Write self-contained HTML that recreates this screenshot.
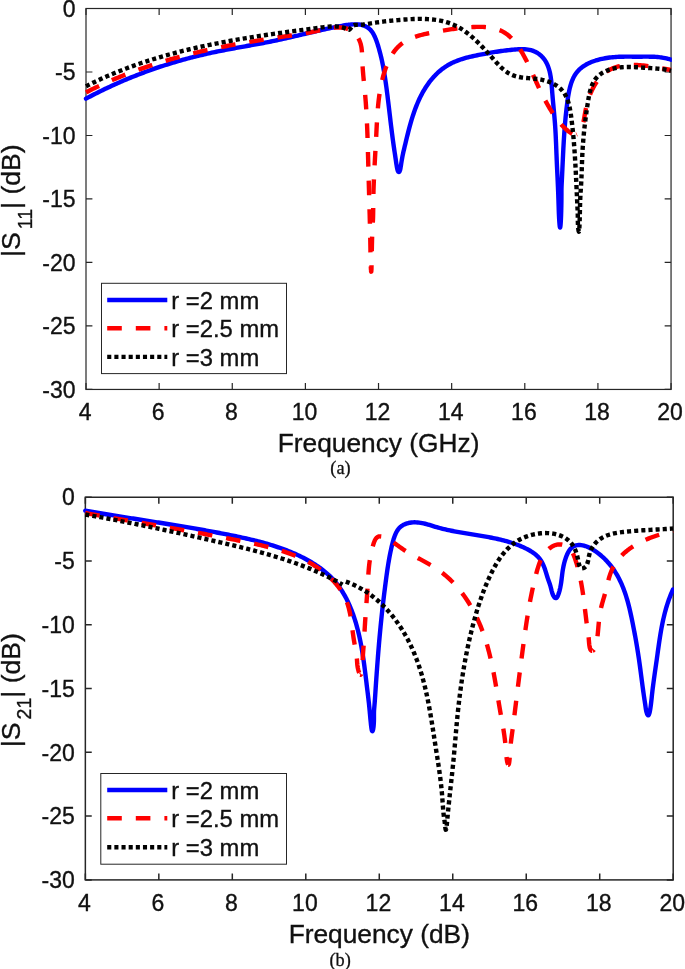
<!DOCTYPE html>
<html lang="en">
<head>
<meta charset="utf-8">
<title>S-parameters versus frequency for r = 2, 2.5 and 3 mm</title>
<style>
html,body{margin:0;padding:0;background:#fff;}
body{width:685px;height:969px;overflow:hidden;}
svg{display:block;}
text{font-family:"Liberation Sans",Arial,Helvetica,sans-serif;fill:#111;stroke:#111;stroke-width:0.35px;}
.tk text{font-size:23px;}
.lg text{font-size:23.8px;}
.lab{font-size:26.3px;}
.sub{font-size:19.5px;}
.ylab{font-size:26.6px;}
.cap{font-family:"Liberation Serif","Times New Roman",serif;font-size:18.3px;fill:#111;stroke-width:0.3px;}
</style>
</head>
<body>
<svg width="685" height="969" viewBox="0 0 685 969">
<rect width="685" height="969" fill="#fff"/>

<g id="plot-a">
<rect x="86.0" y="8.5" width="585.05" height="380.95" fill="#fff" stroke="#262626" stroke-width="1.2"/>
<path d="M86.00 389.45 v-6.4 M86.00 8.5 v6.4 M159.13 389.45 v-6.4 M159.13 8.5 v6.4 M232.26 389.45 v-6.4 M232.26 8.5 v6.4 M305.39 389.45 v-6.4 M305.39 8.5 v6.4 M378.52 389.45 v-6.4 M378.52 8.5 v6.4 M451.66 389.45 v-6.4 M451.66 8.5 v6.4 M524.79 389.45 v-6.4 M524.79 8.5 v6.4 M597.92 389.45 v-6.4 M597.92 8.5 v6.4 M671.05 389.45 v-6.4 M671.05 8.5 v6.4 M86.0 8.50 h6.4 M671.05 8.50 h-6.4 M86.0 71.99 h6.4 M671.05 71.99 h-6.4 M86.0 135.48 h6.4 M671.05 135.48 h-6.4 M86.0 198.97 h6.4 M671.05 198.97 h-6.4 M86.0 262.47 h6.4 M671.05 262.47 h-6.4 M86.0 325.96 h6.4 M671.05 325.96 h-6.4 M86.0 389.45 h6.4 M671.05 389.45 h-6.4" stroke="#262626" stroke-width="1.2" fill="none"/>
<clipPath id="ca"><rect x="82.0" y="8.5" width="589.8499999999999" height="380.95"/></clipPath>
<g clip-path="url(#ca)">
<path d="M86.00 98.60 L87.36 97.87 L88.73 97.15 L90.10 96.43 L91.47 95.72 L92.84 95.01 L94.22 94.31 L95.60 93.61 L96.98 92.92 L98.36 92.23 L99.74 91.54 L101.13 90.86 L102.52 90.19 L103.91 89.52 L105.30 88.85 L106.70 88.19 L108.09 87.53 L109.49 86.88 L110.89 86.23 L112.29 85.59 L113.70 84.95 L115.10 84.31 L116.51 83.68 L117.92 83.06 L119.33 82.44 L120.75 81.82 L122.16 81.21 L123.58 80.60 L125.00 80.00 L126.42 79.40 L127.85 78.81 L129.27 78.22 L130.70 77.64 L132.13 77.06 L133.56 76.49 L134.99 75.92 L136.43 75.35 L137.86 74.79 L139.30 74.24 L140.74 73.68 L142.18 73.14 L143.63 72.60 L145.07 72.06 L146.52 71.53 L147.97 71.00 L149.42 70.47 L150.87 69.96 L152.32 69.44 L153.78 68.93 L155.24 68.43 L156.69 67.93 L158.15 67.43 L159.62 66.94 L161.08 66.46 L162.55 65.97 L164.01 65.50 L165.48 65.02 L166.95 64.56 L168.42 64.09 L169.90 63.64 L171.37 63.18 L172.85 62.73 L174.32 62.29 L175.80 61.85 L177.28 61.42 L178.77 60.99 L180.25 60.56 L181.74 60.14 L183.22 59.72 L184.71 59.31 L186.20 58.90 L187.69 58.50 L189.18 58.11 L190.68 57.71 L192.17 57.32 L193.67 56.94 L195.17 56.56 L196.67 56.19 L198.17 55.82 L199.67 55.45 L201.17 55.09 L202.68 54.74 L204.18 54.39 L205.69 54.04 L207.20 53.70 L208.71 53.37 L210.22 53.03 L211.73 52.71 L213.25 52.38 L214.76 52.07 L216.28 51.75 L217.79 51.44 L219.31 51.14 L220.83 50.83 L222.35 50.54 L223.87 50.24 L225.39 49.95 L226.91 49.66 L228.43 49.37 L229.96 49.08 L231.48 48.80 L233.00 48.52 L234.52 48.24 L236.05 47.96 L237.57 47.68 L239.09 47.41 L240.62 47.13 L242.14 46.86 L243.66 46.58 L245.19 46.31 L246.71 46.04 L248.23 45.76 L249.75 45.49 L251.27 45.21 L252.79 44.94 L254.31 44.66 L255.83 44.38 L257.35 44.11 L258.86 43.82 L260.38 43.54 L261.89 43.26 L263.41 42.97 L264.92 42.68 L266.43 42.39 L267.94 42.10 L269.45 41.80 L270.95 41.50 L272.46 41.19 L273.96 40.88 L275.46 40.57 L276.96 40.26 L278.46 39.94 L279.96 39.61 L281.45 39.29 L282.95 38.96 L284.44 38.62 L285.93 38.29 L287.42 37.95 L288.91 37.60 L290.40 37.26 L291.89 36.92 L293.38 36.57 L294.87 36.22 L296.36 35.87 L297.85 35.52 L299.34 35.16 L300.84 34.81 L302.33 34.46 L303.82 34.10 L305.32 33.75 L306.81 33.40 L308.31 33.04 L309.81 32.69 L311.31 32.34 L312.82 31.99 L314.32 31.64 L315.83 31.29 L317.34 30.94 L318.85 30.60 L320.37 30.26 L321.89 29.92 L323.41 29.58 L324.93 29.24 L326.46 28.91 L327.99 28.58 L329.53 28.26 L331.07 27.94 L332.61 27.62 L334.16 27.31 L335.71 27.00 L337.27 26.69 L338.83 26.39 L340.40 26.10 L341.97 25.81 L343.54 25.53 L345.11 25.27 L346.68 25.03 L348.24 24.81 L349.79 24.63 L351.33 24.49 L352.86 24.38 L354.36 24.33 L355.84 24.33 L357.30 24.38 L358.74 24.50 L360.14 24.69 L361.51 24.96 L362.84 25.30 L364.13 25.73 L365.38 26.24 L366.59 26.86 L367.75 27.57 L368.86 28.39 L369.91 29.32 L370.91 30.37 L371.85 31.54 L372.73 32.83 L373.55 34.22 L374.32 35.70 L375.04 37.24 L375.71 38.85 L376.34 40.49 L376.93 42.16 L377.48 43.83 L378.00 45.50 L378.49 47.14 L378.95 48.74 L379.38 50.30 L379.79 51.81 L380.18 53.29 L380.55 54.74 L380.91 56.17 L381.25 57.58 L381.57 58.99 L381.88 60.39 L382.18 61.79 L382.48 63.20 L382.76 64.63 L383.04 66.07 L383.32 67.54 L383.58 69.01 L383.85 70.51 L384.10 72.01 L384.36 73.53 L384.60 75.05 L384.85 76.59 L385.08 78.14 L385.31 79.69 L385.54 81.25 L385.77 82.81 L385.99 84.37 L386.20 85.94 L386.42 87.51 L386.62 89.08 L386.83 90.65 L387.03 92.21 L387.23 93.77 L387.43 95.33 L387.62 96.88 L387.81 98.42 L388.00 99.96 L388.18 101.49 L388.37 103.01 L388.55 104.53 L388.73 106.04 L388.91 107.56 L389.09 109.07 L389.27 110.57 L389.44 112.08 L389.62 113.59 L389.80 115.10 L389.98 116.61 L390.16 118.12 L390.34 119.63 L390.52 121.15 L390.70 122.67 L390.88 124.20 L391.07 125.73 L391.26 127.27 L391.45 128.81 L391.64 130.37 L391.84 131.93 L392.04 133.50 L392.24 135.06 L392.44 136.63 L392.65 138.20 L392.85 139.75 L393.06 141.31 L393.28 142.85 L393.49 144.37 L393.70 145.89 L393.92 147.38 L394.14 148.86 L394.35 150.33 L394.57 151.79 L394.79 153.24 L395.01 154.69 L395.23 156.15 L395.45 157.61 L395.67 159.08 L395.88 160.56 L396.10 162.06 L396.32 163.61 L396.58 165.26 L396.89 167.09 L397.28 168.98 L397.72 170.62 L398.21 171.69 L398.74 172.09 L399.27 171.84 L399.77 170.97 L400.22 169.49 L400.60 167.50 L400.95 165.33 L401.28 163.24 L401.60 161.26 L401.92 159.39 L402.23 157.63 L402.55 155.95 L402.88 154.34 L403.21 152.81 L403.54 151.33 L403.88 149.89 L404.22 148.46 L404.56 147.03 L404.91 145.60 L405.25 144.15 L405.60 142.70 L405.95 141.24 L406.31 139.78 L406.66 138.31 L407.02 136.83 L407.39 135.35 L407.76 133.86 L408.14 132.37 L408.52 130.88 L408.91 129.39 L409.31 127.89 L409.71 126.40 L410.13 124.90 L410.55 123.40 L410.98 121.90 L411.42 120.41 L411.87 118.92 L412.34 117.42 L412.81 115.94 L413.30 114.45 L413.79 112.97 L414.31 111.49 L414.83 110.02 L415.37 108.56 L415.92 107.10 L416.49 105.65 L417.08 104.21 L417.68 102.77 L418.29 101.35 L418.93 99.93 L419.58 98.53 L420.25 97.13 L420.94 95.75 L421.64 94.38 L422.37 93.02 L423.12 91.67 L423.89 90.34 L424.68 89.02 L425.49 87.72 L426.32 86.43 L427.18 85.16 L428.06 83.90 L428.96 82.66 L429.89 81.45 L430.83 80.25 L431.81 79.07 L432.80 77.91 L433.82 76.78 L434.86 75.67 L435.92 74.58 L437.01 73.52 L438.12 72.48 L439.25 71.47 L440.41 70.49 L441.59 69.54 L442.79 68.61 L444.02 67.72 L445.27 66.86 L446.54 66.03 L447.84 65.23 L449.16 64.46 L450.51 63.73 L451.87 63.04 L453.26 62.38 L454.67 61.75 L456.10 61.16 L457.55 60.59 L459.01 60.05 L460.49 59.54 L461.98 59.06 L463.48 58.59 L465.00 58.15 L466.52 57.73 L468.04 57.33 L469.58 56.95 L471.11 56.59 L472.65 56.24 L474.19 55.90 L475.73 55.57 L477.26 55.26 L478.80 54.95 L480.32 54.65 L481.84 54.36 L483.35 54.07 L484.86 53.79 L486.35 53.51 L487.84 53.24 L489.33 52.97 L490.81 52.70 L492.29 52.45 L493.77 52.20 L495.25 51.95 L496.74 51.71 L498.22 51.48 L499.71 51.26 L501.20 51.04 L502.70 50.84 L504.21 50.64 L505.73 50.45 L507.26 50.27 L508.80 50.10 L510.35 49.94 L511.91 49.79 L513.49 49.64 L515.09 49.52 L516.70 49.40 L518.32 49.30 L519.95 49.24 L521.57 49.21 L523.19 49.22 L524.79 49.28 L526.38 49.40 L527.94 49.59 L529.47 49.85 L530.97 50.20 L532.43 50.63 L533.84 51.14 L535.21 51.75 L536.52 52.43 L537.79 53.20 L539.00 54.03 L540.16 54.94 L541.25 55.91 L542.29 56.94 L543.26 58.02 L544.17 59.16 L545.01 60.35 L545.78 61.59 L546.49 62.86 L547.13 64.18 L547.72 65.54 L548.26 66.93 L548.75 68.35 L549.18 69.80 L549.58 71.28 L549.93 72.78 L550.25 74.31 L550.53 75.85 L550.78 77.41 L551.00 78.99 L551.20 80.57 L551.38 82.17 L551.54 83.77 L551.69 85.37 L551.82 86.97 L551.95 88.57 L552.07 90.17 L552.19 91.76 L552.31 93.34 L552.44 94.91 L552.57 96.47 L552.70 98.02 L552.84 99.56 L552.98 101.10 L553.12 102.62 L553.26 104.14 L553.40 105.66 L553.54 107.17 L553.68 108.68 L553.82 110.19 L553.96 111.69 L554.10 113.19 L554.23 114.70 L554.37 116.20 L554.50 117.70 L554.62 119.21 L554.75 120.72 L554.87 122.24 L554.98 123.75 L555.09 125.28 L555.20 126.81 L555.30 128.35 L555.39 129.89 L555.48 131.44 L555.57 132.99 L555.65 134.54 L555.73 136.10 L555.80 137.66 L555.87 139.23 L555.94 140.79 L556.01 142.36 L556.08 143.93 L556.14 145.49 L556.20 147.06 L556.26 148.62 L556.32 150.18 L556.38 151.74 L556.44 153.30 L556.51 154.85 L556.57 156.40 L556.63 157.94 L556.69 159.48 L556.76 161.01 L556.82 162.54 L556.89 164.06 L556.96 165.58 L557.03 167.10 L557.10 168.61 L557.17 170.13 L557.25 171.64 L557.32 173.16 L557.39 174.68 L557.46 176.20 L557.53 177.72 L557.60 179.25 L557.68 180.79 L557.75 182.33 L557.82 183.88 L557.88 185.43 L557.95 187.00 L558.02 188.57 L558.08 190.16 L558.15 191.75 L558.21 193.36 L558.27 194.98 L558.32 196.59 L558.38 198.19 L558.43 199.78 L558.49 201.34 L558.53 202.88 L558.58 204.37 L558.63 205.82 L558.67 207.21 L558.71 208.54 L558.75 209.82 L558.79 211.08 L558.84 212.40 L558.90 213.80 L558.97 215.36 L559.06 217.13 L559.16 219.06 L559.28 221.03 L559.41 222.92 L559.54 224.58 L559.68 225.88 L559.81 226.79 L559.94 227.33 L560.06 227.52 L560.18 227.38 L560.30 226.94 L560.42 226.21 L560.53 225.23 L560.64 224.01 L560.74 222.58 L560.83 220.95 L560.93 219.15 L561.01 217.20 L561.09 215.13 L561.16 212.96 L561.23 210.70 L561.28 208.39 L561.33 206.04 L561.37 203.68 L561.41 201.33 L561.43 199.01 L561.44 196.74 L561.45 194.55 L561.45 192.47 L561.46 190.55 L561.49 188.81 L561.53 187.24 L561.59 185.78 L561.65 184.37 L561.72 182.97 L561.79 181.55 L561.86 180.08 L561.94 178.59 L562.01 177.07 L562.08 175.52 L562.16 173.96 L562.23 172.39 L562.30 170.80 L562.38 169.21 L562.45 167.62 L562.52 166.03 L562.60 164.45 L562.67 162.88 L562.74 161.31 L562.82 159.75 L562.89 158.19 L562.96 156.64 L563.04 155.10 L563.11 153.55 L563.19 152.02 L563.27 150.48 L563.34 148.95 L563.42 147.42 L563.51 145.90 L563.59 144.38 L563.68 142.86 L563.76 141.34 L563.86 139.82 L563.95 138.31 L564.05 136.79 L564.14 135.28 L564.25 133.77 L564.35 132.26 L564.46 130.74 L564.57 129.23 L564.69 127.71 L564.81 126.20 L564.94 124.68 L565.07 123.16 L565.20 121.64 L565.34 120.11 L565.48 118.58 L565.63 117.05 L565.79 115.52 L565.94 113.98 L566.11 112.44 L566.28 110.89 L566.46 109.34 L566.64 107.78 L566.83 106.22 L567.03 104.65 L567.23 103.08 L567.44 101.50 L567.65 99.91 L567.88 98.32 L568.12 96.73 L568.38 95.14 L568.65 93.56 L568.95 91.99 L569.26 90.42 L569.61 88.87 L569.98 87.34 L570.39 85.82 L570.83 84.33 L571.31 82.86 L571.83 81.42 L572.39 80.01 L572.99 78.64 L573.64 77.29 L574.35 75.99 L575.11 74.73 L575.92 73.52 L576.79 72.35 L577.73 71.23 L578.72 70.16 L579.77 69.15 L580.88 68.18 L582.04 67.26 L583.25 66.39 L584.50 65.56 L585.80 64.78 L587.14 64.04 L588.51 63.34 L589.91 62.69 L591.34 62.08 L592.80 61.50 L594.28 60.97 L595.79 60.47 L597.30 60.02 L598.84 59.59 L600.38 59.20 L601.93 58.85 L603.48 58.53 L605.04 58.24 L606.59 57.98 L608.14 57.75 L609.68 57.55 L611.23 57.37 L612.76 57.22 L614.30 57.09 L615.83 56.98 L617.36 56.89 L618.89 56.82 L620.42 56.76 L621.95 56.72 L623.48 56.69 L625.00 56.67 L626.53 56.66 L628.06 56.66 L629.58 56.66 L631.11 56.67 L632.65 56.68 L634.18 56.69 L635.72 56.70 L637.25 56.70 L638.80 56.70 L640.34 56.69 L641.89 56.68 L643.44 56.67 L644.99 56.66 L646.55 56.66 L648.10 56.66 L649.65 56.68 L651.20 56.71 L652.76 56.75 L654.30 56.82 L655.85 56.91 L657.39 57.02 L658.93 57.17 L660.46 57.34 L661.99 57.55 L663.51 57.80 L665.02 58.09 L666.53 58.42 L668.03 58.80 L669.52 59.22 L671.00 59.70" fill="none" stroke="#0000ff" stroke-width="4.4" stroke-linejoin="round" stroke-linecap="round"/>
<path d="M86.00 92.40 L87.38 91.69 L88.77 90.98 L90.16 90.29 L91.56 89.59 L92.95 88.90 L94.35 88.22 L95.75 87.55 L97.15 86.87 L98.56 86.21 L99.96 85.55 L101.37 84.89 L102.78 84.24 L104.19 83.60 L105.60 82.96 L107.02 82.33 L108.44 81.70 L109.85 81.07 L111.28 80.46 L112.70 79.84 L114.12 79.24 L115.55 78.63 L116.98 78.03 L118.41 77.44 L119.84 76.85 L121.27 76.27 L122.71 75.69 L124.15 75.12 L125.59 74.55 L127.03 73.99 L128.47 73.43 L129.92 72.88 L131.36 72.33 L132.81 71.79 L134.26 71.25 L135.71 70.71 L137.16 70.18 L138.62 69.66 L140.07 69.14 L141.53 68.62 L142.99 68.11 L144.45 67.60 L145.92 67.10 L147.38 66.60 L148.85 66.11 L150.31 65.62 L151.78 65.14 L153.25 64.66 L154.72 64.18 L156.20 63.71 L157.67 63.25 L159.15 62.78 L160.63 62.33 L162.11 61.87 L163.59 61.42 L165.07 60.98 L166.55 60.53 L168.04 60.10 L169.53 59.66 L171.01 59.23 L172.50 58.81 L173.99 58.39 L175.49 57.97 L176.98 57.56 L178.47 57.15 L179.97 56.74 L181.47 56.34 L182.96 55.95 L184.46 55.55 L185.97 55.16 L187.47 54.78 L188.97 54.39 L190.48 54.02 L191.98 53.64 L193.49 53.27 L195.00 52.90 L196.51 52.54 L198.02 52.18 L199.53 51.82 L201.04 51.47 L202.56 51.12 L204.07 50.77 L205.59 50.43 L207.10 50.09 L208.62 49.75 L210.14 49.42 L211.66 49.09 L213.18 48.77 L214.71 48.44 L216.23 48.12 L217.76 47.81 L219.28 47.49 L220.81 47.18 L222.33 46.88 L223.86 46.57 L225.39 46.27 L226.92 45.98 L228.45 45.68 L229.98 45.39 L231.51 45.10 L233.04 44.81 L234.57 44.53 L236.10 44.25 L237.63 43.97 L239.16 43.70 L240.69 43.42 L242.23 43.15 L243.76 42.88 L245.29 42.62 L246.82 42.35 L248.35 42.09 L249.88 41.83 L251.41 41.58 L252.94 41.32 L254.47 41.07 L256.00 40.82 L257.53 40.57 L259.06 40.33 L260.58 40.08 L262.11 39.84 L263.63 39.60 L265.16 39.36 L266.68 39.12 L268.20 38.89 L269.72 38.66 L271.24 38.42 L272.76 38.19 L274.28 37.97 L275.80 37.74 L277.31 37.51 L278.82 37.29 L280.34 37.07 L281.85 36.84 L283.36 36.62 L284.86 36.40 L286.37 36.19 L287.88 35.97 L289.38 35.75 L290.89 35.52 L292.40 35.30 L293.91 35.07 L295.42 34.85 L296.93 34.61 L298.45 34.37 L299.97 34.13 L301.49 33.88 L303.02 33.63 L304.55 33.36 L306.09 33.09 L307.63 32.82 L309.18 32.53 L310.74 32.23 L312.30 31.93 L313.88 31.61 L315.46 31.28 L317.04 30.94 L318.64 30.59 L320.24 30.24 L321.85 29.88 L323.46 29.53 L325.07 29.19 L326.67 28.86 L328.27 28.56 L329.87 28.28 L331.45 28.03 L333.02 27.82 L334.58 27.65 L336.12 27.53 L337.64 27.45 L339.14 27.44 L340.62 27.49 L342.07 27.61 L343.49 27.80 L344.88 28.07 L346.24 28.42 L347.57 28.86 L348.86 29.40 L350.11 30.03 L351.31 30.76 L352.47 31.58 L353.58 32.49 L354.63 33.47 L355.63 34.53 L356.56 35.66 L357.42 36.86 L358.21 38.11 L358.93 39.42 L359.57 40.78 L360.12 42.19 L360.59 43.63 L360.98 45.11 L361.30 46.62 L361.55 48.16 L361.74 49.72 L361.89 51.30 L362.00 52.90 L362.08 54.50 L362.15 56.11 L362.20 57.73 L362.25 59.34 L362.31 60.94 L362.38 62.54 L362.46 64.13 L362.55 65.71 L362.65 67.29 L362.76 68.86 L362.88 70.42 L363.00 71.98 L363.13 73.53 L363.26 75.08 L363.40 76.63 L363.55 78.17 L363.69 79.71 L363.84 81.25 L363.99 82.78 L364.14 84.31 L364.29 85.84 L364.44 87.37 L364.59 88.90 L364.74 90.43 L364.89 91.96 L365.03 93.49 L365.17 95.02 L365.30 96.55 L365.43 98.08 L365.55 99.62 L365.67 101.15 L365.79 102.69 L365.90 104.23 L366.01 105.76 L366.11 107.31 L366.21 108.85 L366.31 110.39 L366.40 111.93 L366.49 113.48 L366.58 115.02 L366.66 116.57 L366.74 118.11 L366.82 119.66 L366.89 121.21 L366.96 122.76 L367.03 124.31 L367.10 125.86 L367.16 127.41 L367.22 128.96 L367.28 130.51 L367.34 132.07 L367.40 133.62 L367.45 135.17 L367.50 136.73 L367.55 138.28 L367.60 139.83 L367.65 141.39 L367.70 142.94 L367.74 144.50 L367.78 146.05 L367.83 147.61 L367.87 149.16 L367.91 150.72 L367.95 152.27 L367.99 153.83 L368.04 155.38 L368.08 156.93 L368.12 158.49 L368.16 160.04 L368.20 161.59 L368.24 163.15 L368.28 164.70 L368.32 166.25 L368.36 167.80 L368.40 169.36 L368.45 170.91 L368.49 172.46 L368.53 174.01 L368.57 175.56 L368.62 177.11 L368.66 178.66 L368.70 180.21 L368.75 181.75 L368.79 183.30 L368.84 184.85 L368.88 186.40 L368.92 187.95 L368.97 189.50 L369.01 191.04 L369.05 192.59 L369.10 194.14 L369.14 195.68 L369.19 197.23 L369.23 198.78 L369.27 200.33 L369.32 201.87 L369.36 203.42 L369.40 204.97 L369.45 206.51 L369.49 208.06 L369.53 209.60 L369.57 211.15 L369.61 212.70 L369.66 214.24 L369.70 215.79 L369.74 217.34 L369.78 218.88 L369.82 220.43 L369.86 221.98 L369.90 223.52 L369.94 225.07 L369.97 226.62 L370.01 228.16 L370.05 229.71 L370.08 231.26 L370.12 232.81 L370.16 234.35 L370.19 235.90 L370.22 237.45 L370.26 239.00 L370.29 240.55 L370.32 242.09 L370.34 243.64 L370.37 245.19 L370.39 246.73 L370.42 248.28 L370.44 249.82 L370.45 251.37 L370.47 252.91 L370.49 254.46 L370.51 256.02 L370.53 257.58 L370.56 259.15 L370.59 260.72 L370.64 262.31 L370.69 263.91 L370.75 265.52 L370.82 267.15 L370.90 268.68 L370.98 269.96" fill="none" stroke="#ff0000" stroke-width="4.4" stroke-linejoin="round" stroke-dasharray="14.6 14" stroke-dashoffset="0.00"/>
<path d="M370.98 269.96 L371.05 270.89 L371.12 271.48 L371.18 271.73 L371.24 271.67 L371.30 271.33 L371.35 270.71 L371.39 269.84 L371.44 268.73 L371.48 267.41 L371.52 265.90 L371.56 264.20 L371.60 262.35 L371.63 260.36 L371.67 258.25 L371.71 256.04 L371.75 253.75 L371.80 251.39 L371.84 248.99 L371.89 246.56 L371.94 244.13 L372.00 241.70 L372.06 239.31 L372.12 236.97 L372.20 234.70 L372.27 232.52 L372.36 230.44 L372.45 228.50 L372.55 226.69 L372.65 225.00 L372.75 223.40 L372.85 221.86 L372.93 220.34 L373.00 218.82 L373.06 217.28 L373.10 215.74 L373.13 214.20 L373.16 212.64 L373.18 211.09 L373.19 209.53 L373.20 207.97 L373.21 206.40 L373.22 204.84 L373.24 203.28 L373.26 201.72 L373.28 200.16 L373.31 198.61 L373.34 197.05 L373.37 195.50 L373.41 193.95 L373.45 192.40 L373.49 190.85 L373.54 189.30 L373.59 187.75 L373.65 186.21 L373.70 184.67 L373.76 183.12 L373.82 181.58 L373.89 180.04 L373.96 178.50 L374.02 176.96 L374.10 175.42 L374.17 173.88 L374.24 172.34 L374.32 170.80 L374.40 169.26 L374.48 167.72 L374.56 166.18 L374.64 164.65 L374.72 163.11 L374.81 161.57 L374.89 160.03 L374.98 158.49 L375.06 156.95 L375.15 155.41 L375.24 153.87 L375.32 152.33 L375.41 150.78 L375.50 149.24 L375.58 147.70 L375.67 146.15 L375.75 144.61 L375.84 143.06 L375.92 141.51 L376.01 139.96 L376.09 138.41 L376.17 136.85 L376.25 135.30 L376.33 133.74 L376.41 132.19 L376.48 130.63 L376.56 129.07 L376.64 127.51 L376.72 125.95 L376.80 124.38 L376.89 122.82 L376.97 121.26 L377.06 119.70 L377.16 118.13 L377.26 116.57 L377.36 115.01 L377.47 113.45 L377.58 111.89 L377.70 110.33 L377.83 108.78 L377.97 107.22 L378.11 105.66 L378.27 104.11 L378.43 102.56 L378.60 101.01 L378.78 99.47 L378.97 97.92 L379.17 96.38 L379.39 94.85 L379.62 93.31 L379.85 91.78 L380.11 90.25 L380.37 88.73 L380.65 87.21 L380.95 85.69 L381.26 84.18 L381.59 82.67 L381.93 81.16 L382.29 79.66 L382.66 78.17 L383.06 76.68 L383.47 75.20 L383.90 73.72 L384.35 72.24 L384.82 70.78 L385.32 69.32 L385.83 67.86 L386.36 66.42 L386.92 64.98 L387.51 63.56 L388.11 62.15 L388.75 60.76 L389.42 59.38 L390.11 58.03 L390.84 56.70 L391.59 55.39 L392.38 54.11 L393.21 52.86 L394.07 51.63 L394.97 50.44 L395.90 49.29 L396.88 48.16 L397.90 47.08 L398.95 46.04 L400.06 45.03 L401.20 44.07 L402.39 43.16 L403.63 42.29 L404.91 41.48 L406.23 40.70 L407.60 39.97 L409.00 39.28 L410.43 38.63 L411.89 38.01 L413.38 37.43 L414.90 36.89 L416.43 36.37 L417.99 35.89 L419.56 35.43 L421.14 35.00 L422.73 34.59 L424.32 34.20 L425.92 33.83 L427.52 33.48 L429.12 33.15 L430.71 32.82 L432.29 32.51 L433.86 32.21 L435.41 31.92 L436.95 31.64 L438.48 31.36 L439.99 31.08 L441.49 30.82 L442.98 30.56 L444.46 30.31 L445.93 30.07 L447.40 29.83 L448.87 29.60 L450.33 29.38 L451.79 29.16 L453.26 28.96 L454.72 28.76 L456.19 28.57 L457.67 28.38 L459.15 28.21 L460.64 28.04 L462.15 27.88 L463.66 27.73 L465.19 27.59 L466.73 27.46 L468.29 27.33 L469.87 27.21 L471.46 27.11 L473.06 27.02 L474.67 26.95 L476.29 26.89 L477.91 26.86 L479.54 26.85 L481.16 26.87 L482.79 26.92 L484.40 27.00 L486.01 27.11 L487.60 27.27 L489.18 27.46 L490.75 27.69 L492.29 27.97 L493.82 28.29 L495.32 28.67 L496.79 29.09 L498.24 29.57 L499.65 30.11 L501.03 30.71 L502.37 31.37 L503.67 32.09 L504.94 32.87 L506.17 33.70 L507.37 34.59 L508.53 35.52 L509.67 36.51 L510.77 37.53 L511.84 38.60 L512.88 39.71 L513.90 40.86 L514.89 42.04 L515.85 43.25 L516.78 44.49 L517.69 45.75 L518.58 47.04 L519.45 48.35 L520.29 49.67 L521.11 51.01 L521.91 52.37 L522.70 53.73 L523.47 55.10 L524.22 56.48 L524.95 57.86 L525.67 59.24 L526.37 60.62 L527.07 62.01 L527.75 63.40 L528.42 64.79 L529.08 66.18 L529.73 67.57 L530.38 68.97 L531.02 70.37 L531.66 71.77 L532.29 73.17 L532.92 74.57 L533.55 75.98 L534.18 77.38 L534.80 78.79 L535.44 80.20 L536.07 81.61 L536.71 83.02 L537.35 84.43 L538.00 85.84 L538.66 87.26 L539.32 88.67 L539.99 90.09 L540.68 91.50 L541.37 92.91 L542.07 94.32 L542.78 95.73 L543.49 97.13 L544.22 98.52 L544.95 99.91 L545.70 101.29 L546.45 102.67 L547.21 104.03 L547.98 105.39 L548.76 106.73 L549.55 108.06 L550.34 109.38 L551.15 110.69 L551.96 111.98 L552.79 113.26 L553.62 114.51 L554.46 115.76 L555.31 116.98 L556.17 118.19 L557.05 119.38 L557.95 120.55 L558.87 121.72 L559.83 122.87 L560.83 124.02 L561.87 125.17 L562.97 126.32 L564.12 127.47 L565.35 128.63 L566.64 129.79 L568.01 130.95 L569.42 132.04 L570.86 133.00 L572.30 133.79 L573.73 134.35 L575.13 134.61 L576.44 134.52" fill="none" stroke="#ff0000" stroke-width="4.4" stroke-linejoin="round" stroke-dasharray="14.6 14" stroke-dashoffset="6.23"/>
<path d="M576.44 134.52 L577.62 134.01 L578.65 133.14 L579.55 132.04 L580.35 130.81 L581.05 129.47 L581.68 128.04 L582.22 126.53 L582.71 124.95 L583.13 123.33 L583.51 121.67 L583.85 119.99 L584.16 118.30 L584.46 116.62 L584.74 114.95 L585.02 113.32 L585.31 111.74 L585.61 110.18 L585.92 108.66 L586.24 107.17 L586.58 105.70 L586.94 104.25 L587.32 102.81 L587.73 101.38 L588.16 99.95 L588.63 98.52 L589.12 97.09 L589.65 95.64 L590.22 94.20 L590.82 92.76 L591.45 91.33 L592.12 89.90 L592.82 88.48 L593.55 87.08 L594.32 85.70 L595.13 84.34 L595.97 83.01 L596.84 81.71 L597.75 80.44 L598.69 79.20 L599.66 78.00 L600.68 76.85 L601.72 75.74 L602.80 74.69 L603.92 73.68 L605.07 72.73 L606.26 71.84 L607.48 71.01 L608.73 70.25 L610.02 69.54 L611.34 68.90 L612.69 68.30 L614.06 67.77 L615.46 67.28 L616.89 66.85 L618.34 66.46 L619.81 66.12 L621.30 65.83 L622.82 65.58 L624.34 65.38 L625.89 65.21 L627.45 65.08 L629.02 64.99 L630.61 64.94 L632.20 64.92 L633.80 64.93 L635.41 64.96 L637.03 65.03 L638.65 65.12 L640.27 65.24 L641.89 65.38 L643.52 65.54 L645.14 65.72 L646.76 65.92 L648.37 66.13 L649.98 66.36 L651.58 66.60 L653.17 66.85 L654.75 67.10 L656.31 67.37 L657.87 67.64 L659.41 67.91 L660.93 68.18 L662.43 68.46 L663.92 68.73 L665.38 69.00 L666.82 69.26 L668.24 69.51 L669.63 69.76 L670.99 69.99" fill="none" stroke="#ff0000" stroke-width="4.4" stroke-linejoin="round" stroke-dasharray="14.6 14" stroke-dashoffset="14.08"/>
<path d="M86.00 86.30 L87.37 85.59 L88.75 84.89 L90.13 84.20 L91.52 83.51 L92.90 82.83 L94.29 82.15 L95.68 81.48 L97.07 80.82 L98.47 80.16 L99.87 79.51 L101.27 78.87 L102.67 78.23 L104.08 77.59 L105.48 76.97 L106.89 76.34 L108.30 75.73 L109.72 75.12 L111.13 74.51 L112.55 73.91 L113.97 73.32 L115.39 72.73 L116.82 72.15 L118.24 71.57 L119.67 71.00 L121.10 70.43 L122.53 69.87 L123.97 69.31 L125.40 68.76 L126.84 68.22 L128.28 67.68 L129.72 67.14 L131.17 66.61 L132.61 66.09 L134.06 65.57 L135.51 65.05 L136.96 64.54 L138.41 64.04 L139.87 63.54 L141.32 63.04 L142.78 62.55 L144.24 62.06 L145.70 61.58 L147.16 61.11 L148.63 60.63 L150.09 60.17 L151.56 59.71 L153.03 59.25 L154.50 58.79 L155.97 58.34 L157.44 57.90 L158.92 57.46 L160.39 57.02 L161.87 56.59 L163.35 56.16 L164.83 55.74 L166.31 55.32 L167.80 54.91 L169.28 54.50 L170.76 54.09 L172.25 53.69 L173.74 53.29 L175.23 52.89 L176.72 52.50 L178.21 52.11 L179.70 51.73 L181.20 51.35 L182.69 50.98 L184.19 50.61 L185.69 50.24 L187.18 49.87 L188.68 49.51 L190.18 49.15 L191.68 48.80 L193.19 48.45 L194.69 48.10 L196.19 47.76 L197.70 47.42 L199.20 47.08 L200.71 46.75 L202.22 46.42 L203.72 46.09 L205.23 45.77 L206.74 45.45 L208.25 45.13 L209.76 44.82 L211.28 44.51 L212.79 44.20 L214.30 43.89 L215.82 43.59 L217.33 43.29 L218.85 43.00 L220.36 42.70 L221.88 42.41 L223.39 42.12 L224.91 41.84 L226.43 41.55 L227.95 41.27 L229.47 41.00 L230.98 40.72 L232.50 40.45 L234.02 40.18 L235.54 39.91 L237.06 39.65 L238.58 39.38 L240.11 39.12 L241.63 38.86 L243.15 38.61 L244.67 38.36 L246.19 38.10 L247.71 37.85 L249.24 37.61 L250.76 37.36 L252.28 37.12 L253.80 36.88 L255.33 36.64 L256.85 36.40 L258.37 36.16 L259.89 35.93 L261.42 35.70 L262.94 35.47 L264.46 35.24 L265.99 35.01 L267.51 34.79 L269.03 34.56 L270.55 34.34 L272.07 34.12 L273.60 33.90 L275.12 33.68 L276.64 33.47 L278.16 33.25 L279.68 33.04 L281.20 32.83 L282.72 32.61 L284.24 32.40 L285.76 32.20 L287.28 31.99 L288.80 31.78 L290.32 31.58 L291.84 31.37 L293.36 31.17 L294.87 30.97 L296.39 30.76 L297.91 30.56 L299.42 30.36 L300.94 30.16 L302.46 29.96 L303.98 29.76 L305.50 29.56 L307.03 29.36 L308.55 29.16 L310.08 28.96 L311.62 28.76 L313.15 28.56 L314.69 28.36 L316.23 28.15 L317.78 27.95 L319.33 27.74 L320.88 27.53 L322.44 27.32 L324.00 27.12 L325.57 26.94 L327.13 26.77 L328.69 26.62 L330.24 26.51 L331.79 26.43 L333.33 26.40 L334.87 26.41 L336.39 26.48 L337.90 26.61 L339.39 26.81 L340.87 27.08 L342.33 27.43 L343.77 27.87 L345.19 28.40 L346.58 29.02 L347.95 29.68 L349.21 29.79 L350.32 28.66 L351.40 27.13 L352.59 25.94 L353.91 25.23 L355.36 24.92 L356.88 24.84 L358.45 24.84 L360.02 24.79 L361.59 24.69 L363.16 24.54 L364.73 24.35 L366.29 24.13 L367.85 23.89 L369.40 23.63 L370.95 23.38 L372.48 23.12 L374.01 22.88 L375.52 22.65 L377.03 22.42 L378.53 22.21 L380.03 22.01 L381.52 21.81 L383.00 21.62 L384.49 21.44 L385.97 21.27 L387.46 21.10 L388.95 20.94 L390.43 20.78 L391.93 20.63 L393.42 20.48 L394.93 20.34 L396.44 20.20 L397.95 20.07 L399.48 19.94 L401.02 19.81 L402.56 19.68 L404.11 19.56 L405.67 19.45 L407.24 19.35 L408.80 19.25 L410.38 19.16 L411.95 19.08 L413.53 19.02 L415.12 18.97 L416.70 18.93 L418.28 18.90 L419.86 18.89 L421.45 18.90 L423.03 18.92 L424.60 18.96 L426.18 19.02 L427.75 19.10 L429.31 19.21 L430.87 19.33 L432.42 19.48 L433.97 19.65 L435.50 19.85 L437.03 20.07 L438.55 20.32 L440.06 20.60 L441.56 20.91 L443.04 21.24 L444.52 21.61 L445.97 22.01 L447.42 22.45 L448.85 22.92 L450.26 23.42 L451.66 23.96 L453.04 24.53 L454.41 25.15 L455.75 25.79 L457.09 26.48 L458.40 27.19 L459.70 27.94 L460.99 28.71 L462.26 29.52 L463.51 30.36 L464.75 31.22 L465.98 32.11 L467.20 33.02 L468.41 33.96 L469.60 34.92 L470.78 35.90 L471.95 36.90 L473.11 37.92 L474.26 38.96 L475.40 40.02 L476.53 41.09 L477.65 42.18 L478.76 43.28 L479.87 44.39 L480.97 45.52 L482.06 46.65 L483.14 47.80 L484.22 48.95 L485.30 50.11 L486.36 51.27 L487.43 52.44 L488.48 53.62 L489.54 54.79 L490.59 55.97 L491.64 57.14 L492.68 58.32 L493.72 59.49 L494.77 60.66 L495.81 61.81 L496.86 62.96 L497.91 64.09 L498.98 65.20 L500.05 66.28 L501.14 67.34 L502.24 68.36 L503.36 69.34 L504.50 70.29 L505.67 71.19 L506.86 72.04 L508.08 72.84 L509.33 73.59 L510.61 74.27 L511.93 74.89 L513.28 75.44 L514.68 75.92 L516.10 76.34 L517.57 76.70 L519.06 77.01 L520.57 77.28 L522.11 77.51 L523.68 77.70 L525.25 77.88 L526.85 78.03 L528.45 78.17 L530.06 78.31 L531.68 78.45 L533.29 78.60 L534.91 78.77 L536.52 78.95 L538.13 79.16 L539.72 79.41 L541.30 79.70 L542.87 80.03 L544.41 80.41 L545.93 80.83 L547.43 81.29 L548.90 81.80 L550.33 82.36 L551.74 82.97 L553.10 83.62 L554.43 84.33 L555.71 85.08 L556.95 85.88 L558.14 86.74 L559.28 87.64 L560.36 88.60 L561.39 89.61 L562.35 90.67 L563.26 91.79 L564.10 92.96 L564.87 94.19 L565.58 95.46 L566.24 96.77 L566.85 98.13 L567.40 99.53 L567.91 100.96 L568.37 102.43 L568.79 103.92 L569.18 105.43 L569.53 106.97 L569.85 108.52 L570.15 110.09 L570.42 111.67 L570.67 113.26 L570.91 114.85 L571.13 116.44 L571.33 118.03 L571.54 119.61 L571.73 121.19 L571.92 122.75 L572.11 124.32 L572.29 125.87 L572.46 127.43 L572.63 128.97 L572.79 130.51 L572.95 132.05 L573.10 133.58 L573.25 135.11 L573.39 136.64 L573.53 138.16 L573.66 139.68 L573.79 141.20 L573.92 142.71 L574.04 144.23 L574.16 145.74 L574.27 147.25 L574.38 148.76 L574.49 150.28 L574.60 151.79 L574.70 153.30 L574.80 154.81 L574.90 156.32 L574.99 157.84 L575.08 159.36 L575.17 160.88 L575.26 162.40 L575.35 163.92 L575.43 165.45 L575.52 166.98 L575.60 168.52 L575.68 170.06 L575.76 171.61 L575.84 173.16 L575.91 174.71 L575.99 176.27 L576.07 177.84 L576.14 179.40 L576.22 180.97 L576.29 182.54 L576.37 184.10 L576.44 185.67 L576.51 187.23 L576.58 188.79 L576.66 190.34 L576.73 191.89 L576.80 193.43 L576.87 194.97 L576.94 196.49 L577.01 198.01 L577.08 199.52 L577.15 201.01 L577.21 202.50 L577.29 204.00 L577.36 205.51 L577.44 207.05 L577.52 208.63 L577.60 210.24 L577.67 211.85 L577.73 213.44 L577.77 214.98 L577.79 216.47 L577.80 217.93 L577.81 219.37 L577.83 220.83 L577.86 222.30 L577.91 223.83 L578.00 225.41 L578.12 227.07 L578.29 228.76 L578.47 230.22 L578.64 231.17 L578.80 231.61 L578.94 231.56 L579.07 231.09 L579.19 230.22 L579.30 229.00 L579.39 227.48 L579.48 225.70 L579.56 223.69 L579.64 221.51 L579.70 219.20 L579.77 216.80 L579.83 214.34 L579.88 211.89 L579.94 209.47 L579.99 207.13 L580.05 204.92 L580.10 202.87 L580.16 201.02 L580.22 199.36 L580.29 197.81 L580.37 196.32 L580.45 194.84 L580.54 193.36 L580.63 191.87 L580.73 190.38 L580.82 188.88 L580.92 187.38 L581.02 185.87 L581.11 184.35 L581.20 182.82 L581.28 181.29 L581.36 179.75 L581.43 178.20 L581.49 176.65 L581.56 175.09 L581.62 173.53 L581.67 171.96 L581.73 170.39 L581.78 168.82 L581.84 167.25 L581.89 165.68 L581.94 164.11 L582.00 162.55 L582.06 160.98 L582.12 159.42 L582.18 157.86 L582.25 156.31 L582.32 154.76 L582.40 153.22 L582.48 151.68 L582.57 150.15 L582.66 148.63 L582.76 147.11 L582.87 145.59 L582.97 144.08 L583.09 142.56 L583.20 141.06 L583.33 139.55 L583.45 138.04 L583.59 136.54 L583.73 135.04 L583.87 133.54 L584.02 132.03 L584.17 130.53 L584.33 129.03 L584.49 127.52 L584.66 126.01 L584.84 124.50 L585.01 122.99 L585.20 121.47 L585.39 119.96 L585.58 118.43 L585.78 116.90 L585.99 115.37 L586.20 113.83 L586.41 112.29 L586.63 110.74 L586.86 109.18 L587.09 107.62 L587.32 106.05 L587.56 104.47 L587.81 102.88 L588.06 101.29 L588.32 99.69 L588.60 98.09 L588.89 96.50 L589.21 94.91 L589.55 93.34 L589.91 91.79 L590.32 90.26 L590.76 88.76 L591.24 87.28 L591.77 85.84 L592.34 84.44 L592.97 83.09 L593.66 81.78 L594.40 80.53 L595.22 79.33 L596.10 78.19 L597.05 77.12 L598.07 76.11 L599.16 75.16 L600.30 74.28 L601.50 73.45 L602.75 72.68 L604.05 71.97 L605.40 71.31 L606.78 70.70 L608.20 70.15 L609.64 69.65 L611.12 69.20 L612.62 68.79 L614.13 68.43 L615.66 68.12 L617.21 67.85 L618.75 67.62 L620.30 67.43 L621.85 67.28 L623.40 67.16 L624.96 67.08 L626.51 67.03 L628.06 67.00 L629.62 67.00 L631.17 67.03 L632.72 67.07 L634.27 67.13 L635.82 67.20 L637.37 67.28 L638.92 67.38 L640.46 67.48 L642.00 67.58 L643.54 67.68 L645.08 67.79 L646.62 67.89 L648.15 67.98 L649.68 68.07 L651.20 68.16 L652.73 68.26 L654.25 68.36 L655.77 68.48 L657.29 68.60 L658.81 68.75 L660.33 68.91 L661.85 69.09 L663.37 69.30 L664.90 69.53 L666.42 69.80 L667.94 70.09 L669.47 70.43 L671.00 70.80" fill="none" stroke="#000000" stroke-width="4.4" stroke-linejoin="round" stroke-dasharray="4.1 3.05" stroke-dashoffset="0"/>
</g>
<g class="tk">
<text x="85.1" y="419.6" text-anchor="middle">4</text>
<text x="158.2" y="419.6" text-anchor="middle">6</text>
<text x="231.4" y="419.6" text-anchor="middle">8</text>
<text x="304.5" y="419.6" text-anchor="middle">10</text>
<text x="377.6" y="419.6" text-anchor="middle">12</text>
<text x="450.8" y="419.6" text-anchor="middle">14</text>
<text x="523.9" y="419.6" text-anchor="middle">16</text>
<text x="597.0" y="419.6" text-anchor="middle">18</text>
<text x="670.1" y="419.6" text-anchor="middle">20</text>
<text x="75.5" y="16.7" text-anchor="end">0</text>
<text x="75.5" y="80.2" text-anchor="end">-5</text>
<text x="75.5" y="143.7" text-anchor="end">-10</text>
<text x="75.5" y="207.2" text-anchor="end">-15</text>
<text x="75.5" y="270.7" text-anchor="end">-20</text>
<text x="75.5" y="334.2" text-anchor="end">-25</text>
<text x="75.5" y="397.6" text-anchor="end">-30</text>
</g>
<rect x="101.5" y="283.3" width="185.0" height="90.30000000000001" fill="#fff" stroke="#262626" stroke-width="1"/>
<path d="M107.2 300.0 H167.3" stroke="#0000ff" stroke-width="4.4"/>
<path d="M107.2 328.3 H167.3" stroke="#ff0000" stroke-width="4.4" stroke-dasharray="14.6 14"/>
<path d="M107.2 356.9 H167.3" stroke="#000000" stroke-width="4.4" stroke-dasharray="4.1 3.05"/>
<g class="lg">
<text x="171.3" y="308.7">r =2 mm</text>
<text x="171.3" y="337.0">r =2.5 mm</text>
<text x="171.3" y="365.6">r =3 mm</text>
</g>
<text class="lab" x="378.6" y="451.8" text-anchor="middle">Frequency (GHz)</text>
<text class="ylab" transform="translate(20.3 257.0) rotate(-90)">|S<tspan class="sub" dy="11.8" dx="3.1">11</tspan><tspan dy="-11.8" dx="0.1">| (dB)</tspan></text>
<text class="cap" x="340.5" y="474" text-anchor="middle">(a)</text>
</g>
<g id="plot-b">
<rect x="85.35" y="497.25" width="587.85" height="382.65" fill="#fff" stroke="#262626" stroke-width="1.5"/>
<path d="M85.35 879.9 v-6.4 M85.35 497.25 v6.4 M158.83 879.9 v-6.4 M158.83 497.25 v6.4 M232.31 879.9 v-6.4 M232.31 497.25 v6.4 M305.79 879.9 v-6.4 M305.79 497.25 v6.4 M379.27 879.9 v-6.4 M379.27 497.25 v6.4 M452.76 879.9 v-6.4 M452.76 497.25 v6.4 M526.24 879.9 v-6.4 M526.24 497.25 v6.4 M599.72 879.9 v-6.4 M599.72 497.25 v6.4 M673.20 879.9 v-6.4 M673.20 497.25 v6.4 M85.35 497.25 h6.4 M673.2 497.25 h-6.4 M85.35 561.02 h6.4 M673.2 561.02 h-6.4 M85.35 624.80 h6.4 M673.2 624.80 h-6.4 M85.35 688.57 h6.4 M673.2 688.57 h-6.4 M85.35 752.35 h6.4 M673.2 752.35 h-6.4 M85.35 816.12 h6.4 M673.2 816.12 h-6.4 M85.35 879.90 h6.4 M673.2 879.90 h-6.4" stroke="#262626" stroke-width="1.5" fill="none"/>
<clipPath id="cb"><rect x="81.35" y="497.25" width="592.65" height="382.65"/></clipPath>
<g clip-path="url(#cb)">
<path d="M85.30 510.70 L86.79 510.96 L88.28 511.21 L89.77 511.47 L91.26 511.73 L92.75 511.98 L94.24 512.23 L95.73 512.49 L97.22 512.74 L98.71 512.99 L100.21 513.24 L101.70 513.49 L103.19 513.73 L104.68 513.98 L106.17 514.23 L107.67 514.47 L109.16 514.71 L110.65 514.96 L112.14 515.20 L113.64 515.44 L115.13 515.68 L116.62 515.92 L118.12 516.16 L119.61 516.40 L121.11 516.64 L122.60 516.88 L124.09 517.12 L125.59 517.35 L127.08 517.59 L128.58 517.83 L130.07 518.06 L131.57 518.30 L133.06 518.53 L134.56 518.77 L136.05 519.01 L137.55 519.24 L139.04 519.48 L140.54 519.71 L142.03 519.95 L143.52 520.18 L145.02 520.42 L146.51 520.65 L148.01 520.89 L149.50 521.12 L151.00 521.36 L152.49 521.59 L153.99 521.83 L155.48 522.07 L156.98 522.30 L158.47 522.54 L159.97 522.78 L161.46 523.02 L162.96 523.26 L164.45 523.50 L165.95 523.73 L167.44 523.98 L168.93 524.22 L170.43 524.46 L171.92 524.70 L173.42 524.94 L174.91 525.19 L176.40 525.43 L177.90 525.68 L179.39 525.92 L180.88 526.17 L182.37 526.42 L183.87 526.67 L185.36 526.92 L186.85 527.17 L188.34 527.42 L189.84 527.67 L191.33 527.93 L192.82 528.18 L194.31 528.44 L195.80 528.70 L197.29 528.96 L198.78 529.22 L200.27 529.48 L201.76 529.75 L203.25 530.01 L204.74 530.28 L206.23 530.55 L207.72 530.82 L209.21 531.09 L210.70 531.36 L212.18 531.63 L213.67 531.91 L215.16 532.19 L216.65 532.47 L218.13 532.75 L219.62 533.03 L221.10 533.32 L222.59 533.61 L224.08 533.89 L225.56 534.19 L227.04 534.48 L228.53 534.77 L230.01 535.07 L231.50 535.37 L232.98 535.67 L234.46 535.98 L235.94 536.28 L237.42 536.59 L238.90 536.90 L240.38 537.22 L241.86 537.54 L243.34 537.86 L244.82 538.18 L246.29 538.51 L247.77 538.85 L249.24 539.18 L250.71 539.53 L252.18 539.88 L253.65 540.23 L255.12 540.59 L256.58 540.95 L258.05 541.33 L259.51 541.70 L260.97 542.09 L262.42 542.48 L263.88 542.88 L265.33 543.28 L266.78 543.69 L268.23 544.11 L269.68 544.54 L271.12 544.98 L272.56 545.42 L273.99 545.87 L275.43 546.33 L276.86 546.81 L278.29 547.29 L279.71 547.78 L281.13 548.28 L282.55 548.79 L283.96 549.31 L285.38 549.84 L286.78 550.38 L288.19 550.93 L289.58 551.50 L290.98 552.07 L292.37 552.66 L293.76 553.26 L295.14 553.87 L296.52 554.49 L297.89 555.13 L299.26 555.78 L300.63 556.44 L301.99 557.12 L303.35 557.81 L304.70 558.51 L306.04 559.23 L307.38 559.97 L308.71 560.71 L310.04 561.47 L311.36 562.25 L312.67 563.04 L313.97 563.85 L315.25 564.68 L316.53 565.52 L317.80 566.37 L319.05 567.25 L320.29 568.13 L321.51 569.04 L322.73 569.96 L323.92 570.90 L325.10 571.86 L326.26 572.84 L327.40 573.83 L328.52 574.85 L329.63 575.88 L330.71 576.93 L331.78 577.99 L332.82 579.08 L333.84 580.19 L334.83 581.32 L335.80 582.46 L336.75 583.63 L337.68 584.81 L338.58 586.01 L339.46 587.23 L340.32 588.47 L341.16 589.72 L341.97 590.98 L342.77 592.26 L343.54 593.55 L344.30 594.86 L345.03 596.18 L345.75 597.51 L346.45 598.85 L347.13 600.20 L347.79 601.56 L348.43 602.93 L349.06 604.31 L349.67 605.69 L350.26 607.09 L350.84 608.48 L351.40 609.89 L351.94 611.30 L352.47 612.71 L352.99 614.13 L353.49 615.55 L353.98 616.98 L354.45 618.41 L354.92 619.84 L355.36 621.27 L355.80 622.71 L356.22 624.16 L356.63 625.60 L357.03 627.05 L357.42 628.50 L357.80 629.96 L358.16 631.42 L358.52 632.88 L358.86 634.34 L359.20 635.81 L359.52 637.28 L359.84 638.75 L360.15 640.22 L360.45 641.70 L360.74 643.18 L361.02 644.67 L361.30 646.15 L361.56 647.64 L361.82 649.13 L362.08 650.62 L362.32 652.11 L362.57 653.61 L362.80 655.11 L363.03 656.61 L363.26 658.11 L363.48 659.62 L363.69 661.12 L363.90 662.63 L364.11 664.14 L364.31 665.65 L364.51 667.16 L364.71 668.68 L364.91 670.19 L365.10 671.71 L365.29 673.23 L365.48 674.75 L365.66 676.27 L365.85 677.79 L366.03 679.31 L366.22 680.84 L366.40 682.36 L366.59 683.89 L366.77 685.41 L366.96 686.94 L367.15 688.47 L367.33 690.00 L367.52 691.52 L367.71 693.04 L367.89 694.55 L368.07 696.05 L368.25 697.54 L368.42 699.02 L368.59 700.49 L368.76 701.94 L368.92 703.36 L369.07 704.77 L369.21 706.16 L369.35 707.53 L369.47 708.88 L369.60 710.24 L369.73 711.60 L369.85 712.98 L369.98 714.40 L370.11 715.86 L370.25 717.38 L370.40 718.96 L370.56 720.61 L370.74 722.36 L370.93 724.20 L371.14 726.10 L371.37 727.91 L371.62 729.45 L371.88 730.55 L372.15 731.12 L372.43 731.21 L372.71 730.84 L372.97 730.07 L373.23 728.92 L373.45 727.45 L373.65 725.69 L373.80 723.68 L373.91 721.46 L373.96 719.08 L373.97 716.61 L373.96 714.23 L373.99 712.15 L374.06 710.42 L374.17 708.93 L374.29 707.53 L374.41 706.12 L374.53 704.69 L374.64 703.24 L374.75 701.78 L374.85 700.30 L374.96 698.82 L375.06 697.32 L375.17 695.81 L375.27 694.30 L375.37 692.79 L375.47 691.27 L375.57 689.75 L375.67 688.24 L375.77 686.72 L375.87 685.21 L375.98 683.69 L376.08 682.18 L376.18 680.67 L376.29 679.15 L376.39 677.64 L376.50 676.13 L376.61 674.62 L376.71 673.11 L376.82 671.60 L376.93 670.10 L377.04 668.59 L377.15 667.08 L377.26 665.58 L377.37 664.07 L377.49 662.56 L377.60 661.06 L377.72 659.55 L377.83 658.05 L377.95 656.54 L378.07 655.04 L378.19 653.53 L378.31 652.03 L378.43 650.52 L378.56 649.02 L378.68 647.52 L378.81 646.01 L378.93 644.51 L379.06 643.00 L379.19 641.50 L379.32 640.00 L379.46 638.49 L379.59 636.99 L379.73 635.48 L379.87 633.98 L380.01 632.47 L380.15 630.97 L380.29 629.46 L380.44 627.96 L380.58 626.45 L380.73 624.94 L380.88 623.43 L381.03 621.93 L381.19 620.42 L381.34 618.91 L381.50 617.40 L381.66 615.89 L381.82 614.38 L381.98 612.87 L382.15 611.36 L382.32 609.84 L382.48 608.33 L382.66 606.82 L382.83 605.31 L383.00 603.80 L383.18 602.29 L383.36 600.78 L383.54 599.27 L383.72 597.76 L383.90 596.25 L384.08 594.74 L384.27 593.24 L384.46 591.73 L384.65 590.23 L384.84 588.73 L385.03 587.23 L385.22 585.73 L385.41 584.24 L385.61 582.75 L385.80 581.26 L386.00 579.77 L386.20 578.28 L386.40 576.80 L386.60 575.32 L386.80 573.84 L387.01 572.37 L387.22 570.89 L387.44 569.42 L387.66 567.94 L387.88 566.47 L388.11 564.99 L388.35 563.51 L388.59 562.04 L388.84 560.56 L389.11 559.07 L389.37 557.59 L389.65 556.10 L389.94 554.61 L390.24 553.11 L390.55 551.61 L390.88 550.11 L391.21 548.60 L391.56 547.08 L391.92 545.56 L392.30 544.04 L392.69 542.50 L393.10 540.97 L393.54 539.44 L394.01 537.94 L394.52 536.46 L395.08 535.01 L395.68 533.61 L396.34 532.27 L397.07 530.98 L397.86 529.77 L398.73 528.64 L399.68 527.59 L400.72 526.65 L401.85 525.80 L403.06 525.06 L404.34 524.41 L405.68 523.85 L407.07 523.38 L408.51 523.01 L409.99 522.71 L411.49 522.50 L413.01 522.37 L414.54 522.32 L416.07 522.34 L417.60 522.44 L419.11 522.59 L420.62 522.81 L422.11 523.08 L423.60 523.40 L425.08 523.75 L426.56 524.14 L428.03 524.55 L429.50 524.98 L430.96 525.43 L432.42 525.88 L433.87 526.33 L435.33 526.77 L436.78 527.20 L438.24 527.61 L439.69 528.00 L441.15 528.39 L442.60 528.76 L444.06 529.11 L445.52 529.46 L446.98 529.79 L448.44 530.11 L449.91 530.43 L451.38 530.73 L452.85 531.03 L454.33 531.31 L455.81 531.59 L457.29 531.87 L458.78 532.14 L460.27 532.40 L461.76 532.66 L463.26 532.91 L464.75 533.16 L466.25 533.41 L467.75 533.65 L469.26 533.90 L470.76 534.14 L472.26 534.38 L473.77 534.62 L475.27 534.86 L476.78 535.11 L478.28 535.36 L479.79 535.60 L481.29 535.86 L482.79 536.11 L484.29 536.37 L485.79 536.64 L487.29 536.91 L488.79 537.19 L490.28 537.47 L491.77 537.76 L493.26 538.06 L494.75 538.37 L496.23 538.69 L497.71 539.02 L499.18 539.36 L500.65 539.71 L502.12 540.07 L503.58 540.44 L505.04 540.83 L506.49 541.23 L507.93 541.65 L509.37 542.08 L510.81 542.52 L512.24 542.98 L513.66 543.46 L515.07 543.96 L516.48 544.47 L517.88 545.00 L519.27 545.56 L520.66 546.13 L522.04 546.72 L523.41 547.33 L524.77 547.96 L526.12 548.62 L527.46 549.30 L528.78 550.01 L530.09 550.75 L531.37 551.52 L532.63 552.33 L533.85 553.19 L535.03 554.09 L536.17 555.04 L537.26 556.05 L538.30 557.11 L539.28 558.24 L540.20 559.43 L541.06 560.68 L541.85 562.01 L542.57 563.40 L543.24 564.84 L543.86 566.31 L544.43 567.81 L544.96 569.33 L545.47 570.85 L545.95 572.36 L546.41 573.85 L546.85 575.32 L547.29 576.74 L547.73 578.11 L548.18 579.42 L548.63 580.69 L549.08 581.95 L549.53 583.23 L549.97 584.56 L550.39 585.96 L550.80 587.47 L551.20 589.09 L551.61 590.78 L552.08 592.48 L552.62 594.11 L553.28 595.62 L554.10 596.93 L555.04 597.90 L555.99 598.16 L556.85 597.58 L557.61 596.35 L558.28 594.75 L558.87 593.03 L559.38 591.33 L559.81 589.65 L560.19 588.01 L560.51 586.40 L560.79 584.83 L561.04 583.31 L561.26 581.84 L561.45 580.40 L561.63 578.98 L561.80 577.60 L561.97 576.22 L562.13 574.85 L562.31 573.47 L562.49 572.09 L562.70 570.68 L562.93 569.25 L563.19 567.78 L563.49 566.27 L563.83 564.70 L564.22 563.09 L564.65 561.46 L565.14 559.81 L565.67 558.17 L566.25 556.56 L566.88 554.99 L567.57 553.49 L568.31 552.07 L569.11 550.75 L569.96 549.55 L570.88 548.48 L571.85 547.57 L572.87 546.81 L573.95 546.19 L575.07 545.70 L576.24 545.34 L577.44 545.12 L578.68 545.00 L579.95 545.01 L581.25 545.12 L582.57 545.33 L583.91 545.64 L585.27 546.04 L586.64 546.53 L588.01 547.09 L589.39 547.73 L590.77 548.43 L592.14 549.20 L593.51 550.02 L594.86 550.89 L596.20 551.81 L597.51 552.77 L598.81 553.76 L600.07 554.78 L601.30 555.81 L602.50 556.87 L603.67 557.95 L604.80 559.04 L605.90 560.15 L606.97 561.27 L608.01 562.42 L609.02 563.57 L610.00 564.75 L610.95 565.94 L611.87 567.14 L612.76 568.36 L613.63 569.59 L614.47 570.84 L615.28 572.10 L616.07 573.37 L616.84 574.66 L617.58 575.95 L618.30 577.26 L618.99 578.58 L619.66 579.92 L620.31 581.26 L620.94 582.61 L621.55 583.97 L622.14 585.34 L622.72 586.73 L623.27 588.12 L623.80 589.51 L624.32 590.92 L624.82 592.33 L625.31 593.75 L625.78 595.18 L626.24 596.62 L626.68 598.06 L627.11 599.50 L627.52 600.96 L627.93 602.41 L628.32 603.87 L628.70 605.34 L629.07 606.81 L629.43 608.28 L629.78 609.76 L630.13 611.23 L630.46 612.71 L630.79 614.20 L631.12 615.68 L631.43 617.17 L631.74 618.65 L632.05 620.14 L632.35 621.63 L632.65 623.11 L632.95 624.60 L633.24 626.08 L633.53 627.57 L633.82 629.05 L634.10 630.54 L634.39 632.02 L634.66 633.51 L634.94 634.99 L635.21 636.48 L635.48 637.96 L635.74 639.45 L636.01 640.93 L636.27 642.42 L636.52 643.91 L636.77 645.40 L637.02 646.89 L637.27 648.38 L637.51 649.87 L637.75 651.36 L637.99 652.86 L638.22 654.36 L638.45 655.85 L638.68 657.35 L638.90 658.86 L639.12 660.36 L639.33 661.87 L639.54 663.38 L639.75 664.89 L639.96 666.40 L640.16 667.91 L640.37 669.42 L640.57 670.93 L640.77 672.44 L640.96 673.95 L641.16 675.46 L641.36 676.96 L641.55 678.47 L641.75 679.97 L641.94 681.47 L642.14 682.96 L642.33 684.46 L642.53 685.94 L642.73 687.43 L642.93 688.90 L643.13 690.38 L643.34 691.85 L643.54 693.31 L643.75 694.76 L643.96 696.21 L644.18 697.65 L644.39 699.09 L644.61 700.53 L644.83 701.98 L645.05 703.45 L645.27 704.94 L645.49 706.47 L645.70 708.03 L645.95 709.64 L646.29 711.30 L646.76 713.00 L647.33 714.45 L647.92 715.28 L648.47 715.25 L648.97 714.49 L649.43 713.15 L649.85 711.39 L650.22 709.37 L650.55 707.25 L650.83 705.18 L651.07 703.28 L651.27 701.55 L651.45 699.94 L651.61 698.43 L651.76 696.98 L651.91 695.56 L652.06 694.13 L652.23 692.69 L652.39 691.25 L652.56 689.80 L652.74 688.35 L652.92 686.89 L653.11 685.42 L653.30 683.95 L653.50 682.48 L653.70 681.00 L653.90 679.51 L654.11 678.02 L654.32 676.53 L654.53 675.04 L654.74 673.54 L654.95 672.04 L655.17 670.53 L655.39 669.03 L655.60 667.52 L655.82 666.01 L656.04 664.50 L656.25 662.99 L656.47 661.48 L656.69 659.97 L656.90 658.46 L657.11 656.95 L657.32 655.44 L657.53 653.93 L657.74 652.42 L657.95 650.91 L658.16 649.40 L658.38 647.90 L658.59 646.39 L658.81 644.89 L659.02 643.39 L659.25 641.89 L659.47 640.39 L659.70 638.89 L659.93 637.39 L660.17 635.90 L660.41 634.40 L660.66 632.91 L660.92 631.42 L661.18 629.94 L661.45 628.45 L661.72 626.97 L662.00 625.49 L662.30 624.01 L662.60 622.54 L662.91 621.06 L663.23 619.59 L663.56 618.12 L663.90 616.66 L664.25 615.20 L664.61 613.74 L664.99 612.28 L665.38 610.83 L665.78 609.38 L666.19 607.94 L666.62 606.50 L667.06 605.06 L667.52 603.62 L667.99 602.19 L668.48 600.76 L668.98 599.34 L669.50 597.92 L670.04 596.51 L670.59 595.10 L671.17 593.69 L671.76 592.29 L672.37 590.89 L673.00 589.50" fill="none" stroke="#0000ff" stroke-width="4.4" stroke-linejoin="round" stroke-linecap="round"/>
<path d="M85.30 513.00 L86.79 513.27 L88.28 513.54 L89.76 513.81 L91.25 514.08 L92.74 514.35 L94.23 514.61 L95.72 514.88 L97.20 515.15 L98.69 515.41 L100.18 515.68 L101.67 515.94 L103.16 516.21 L104.65 516.47 L106.14 516.74 L107.63 517.00 L109.12 517.26 L110.61 517.52 L112.09 517.78 L113.58 518.05 L115.07 518.31 L116.56 518.57 L118.05 518.83 L119.54 519.09 L121.03 519.35 L122.52 519.60 L124.01 519.86 L125.50 520.12 L126.99 520.38 L128.49 520.64 L129.98 520.90 L131.47 521.15 L132.96 521.41 L134.45 521.67 L135.94 521.93 L137.43 522.18 L138.92 522.44 L140.41 522.70 L141.90 522.96 L143.39 523.21 L144.88 523.47 L146.37 523.73 L147.86 523.99 L149.35 524.24 L150.84 524.50 L152.33 524.76 L153.83 525.02 L155.32 525.27 L156.81 525.53 L158.30 525.79 L159.79 526.05 L161.28 526.31 L162.77 526.57 L164.26 526.82 L165.75 527.08 L167.24 527.34 L168.73 527.60 L170.22 527.86 L171.71 528.12 L173.20 528.39 L174.69 528.65 L176.18 528.91 L177.67 529.17 L179.16 529.43 L180.65 529.70 L182.14 529.96 L183.63 530.22 L185.12 530.49 L186.61 530.75 L188.09 531.02 L189.58 531.29 L191.07 531.55 L192.56 531.82 L194.05 532.09 L195.54 532.36 L197.03 532.63 L198.51 532.90 L200.00 533.17 L201.49 533.44 L202.98 533.71 L204.46 533.99 L205.95 534.26 L207.44 534.54 L208.93 534.81 L210.41 535.09 L211.90 535.37 L213.39 535.64 L214.87 535.92 L216.36 536.20 L217.84 536.49 L219.33 536.77 L220.82 537.05 L222.30 537.34 L223.79 537.62 L225.27 537.91 L226.75 538.19 L228.24 538.48 L229.72 538.77 L231.21 539.06 L232.69 539.35 L234.17 539.65 L235.66 539.94 L237.14 540.24 L238.62 540.53 L240.11 540.83 L241.59 541.13 L243.07 541.43 L244.55 541.73 L246.03 542.03 L247.51 542.34 L248.99 542.65 L250.47 542.95 L251.95 543.27 L253.43 543.58 L254.91 543.90 L256.39 544.22 L257.86 544.55 L259.33 544.88 L260.81 545.22 L262.28 545.56 L263.75 545.91 L265.22 546.27 L266.68 546.63 L268.15 547.00 L269.61 547.38 L271.07 547.76 L272.53 548.15 L273.98 548.55 L275.44 548.97 L276.89 549.39 L278.34 549.82 L279.78 550.26 L281.23 550.71 L282.67 551.17 L284.10 551.64 L285.54 552.13 L286.97 552.63 L288.39 553.14 L289.82 553.66 L291.23 554.20 L292.65 554.75 L294.05 555.31 L295.46 555.88 L296.85 556.47 L298.24 557.08 L299.63 557.70 L301.00 558.33 L302.37 558.98 L303.74 559.64 L305.09 560.32 L306.44 561.02 L307.77 561.73 L309.10 562.45 L310.42 563.20 L311.73 563.96 L313.03 564.73 L314.32 565.53 L315.60 566.34 L316.87 567.17 L318.13 568.02 L319.38 568.89 L320.61 569.77 L321.83 570.67 L323.04 571.60 L324.24 572.54 L325.42 573.50 L326.58 574.47 L327.73 575.47 L328.86 576.48 L329.97 577.52 L331.06 578.57 L332.13 579.64 L333.17 580.72 L334.20 581.83 L335.20 582.95 L336.18 584.09 L337.13 585.25 L338.06 586.42 L338.96 587.61 L339.83 588.82 L340.67 590.05 L341.48 591.29 L342.27 592.56 L343.02 593.83 L343.73 595.13 L344.42 596.44 L345.06 597.77 L345.68 599.12 L346.25 600.48 L346.79 601.86 L347.30 603.25 L347.77 604.66 L348.21 606.09 L348.61 607.52 L349.00 608.97 L349.35 610.43 L349.68 611.91 L349.99 613.39 L350.28 614.88 L350.55 616.38 L350.81 617.89 L351.05 619.40 L351.28 620.92 L351.50 622.45 L351.71 623.98 L351.91 625.52 L352.11 627.05 L352.31 628.59 L352.51 630.13 L352.71 631.67 L352.91 633.21 L353.12 634.75 L353.33 636.29 L353.55 637.83 L353.79 639.36 L354.04 640.88 L354.30 642.40 L354.56 643.92 L354.83 645.42 L355.10 646.92 L355.37 648.40 L355.63 649.86 L355.88 651.32 L356.12 652.75 L356.33 654.16 L356.53 655.56 L356.70 656.93 L356.85 658.28 L356.96 659.60 L357.04 660.90 L357.11 662.21 L357.20 663.55 L357.33 664.98 L357.54 666.51 L357.85 668.20 L358.30 670.07 L358.87 672.05 L359.50 673.75 L360.10 674.75" fill="none" stroke="#ff0000" stroke-width="4.4" stroke-linejoin="round" stroke-dasharray="14.6 14" stroke-dashoffset="0.00"/>
<path d="M360.10 674.75 L360.61 674.86 L361.05 674.22 L361.42 673.01 L361.72 671.37 L361.97 669.48 L362.17 667.49 L362.34 665.55 L362.47 663.73 L362.58 662.01 L362.67 660.37 L362.75 658.80 L362.83 657.27 L362.90 655.76 L362.99 654.26 L363.09 652.76 L363.19 651.26 L363.31 649.75 L363.42 648.24 L363.54 646.74 L363.66 645.23 L363.77 643.73 L363.87 642.23 L363.97 640.73 L364.07 639.24 L364.17 637.74 L364.26 636.25 L364.35 634.75 L364.43 633.26 L364.52 631.76 L364.61 630.27 L364.69 628.77 L364.78 627.27 L364.87 625.76 L364.97 624.26 L365.06 622.75 L365.16 621.24 L365.26 619.72 L365.37 618.21 L365.47 616.69 L365.58 615.17 L365.69 613.64 L365.80 612.12 L365.91 610.60 L366.02 609.07 L366.14 607.55 L366.25 606.02 L366.36 604.50 L366.48 602.98 L366.59 601.45 L366.70 599.93 L366.81 598.41 L366.92 596.89 L367.03 595.38 L367.14 593.86 L367.24 592.35 L367.34 590.84 L367.45 589.34 L367.54 587.83 L367.64 586.33 L367.73 584.84 L367.82 583.35 L367.91 581.86 L368.00 580.38 L368.08 578.89 L368.17 577.41 L368.27 575.94 L368.36 574.46 L368.47 572.98 L368.58 571.50 L368.70 570.02 L368.83 568.54 L368.97 567.05 L369.13 565.57 L369.30 564.07 L369.48 562.58 L369.69 561.08 L369.91 559.57 L370.15 558.06 L370.41 556.54 L370.70 555.01 L371.01 553.47 L371.34 551.93 L371.70 550.37 L372.09 548.81 L372.51 547.23 L372.97 545.64 L373.45 544.04 L373.98 542.47 L374.57 540.98 L375.23 539.61 L375.99 538.43 L376.86 537.47 L377.85 536.80 L378.96 536.43 L380.19 536.33 L381.49 536.47 L382.85 536.81 L384.23 537.29 L385.63 537.88 L387.00 538.55 L388.33 539.26 L389.63 540.00 L390.90 540.77 L392.15 541.58 L393.38 542.40 L394.59 543.24 L395.79 544.09 L396.98 544.95 L398.17 545.82 L399.36 546.69 L400.56 547.55 L401.77 548.40 L403.00 549.24 L404.24 550.06 L405.50 550.87 L406.78 551.66 L408.07 552.45 L409.37 553.22 L410.68 553.99 L412.00 554.74 L413.33 555.49 L414.67 556.23 L416.01 556.97 L417.36 557.71 L418.71 558.45 L420.07 559.18 L421.42 559.92 L422.78 560.65 L424.13 561.39 L425.48 562.14 L426.82 562.89 L428.16 563.65 L429.50 564.42 L430.82 565.20 L432.14 565.98 L433.44 566.79 L434.74 567.60 L436.02 568.43 L437.28 569.27 L438.53 570.14 L439.77 571.02 L440.99 571.92 L442.19 572.83 L443.38 573.76 L444.55 574.71 L445.70 575.68 L446.84 576.66 L447.96 577.65 L449.07 578.67 L450.16 579.69 L451.24 580.74 L452.30 581.79 L453.35 582.86 L454.38 583.95 L455.40 585.05 L456.40 586.16 L457.39 587.29 L458.36 588.43 L459.32 589.58 L460.26 590.75 L461.19 591.93 L462.10 593.11 L463.00 594.32 L463.89 595.53 L464.76 596.75 L465.61 597.99 L466.46 599.23 L467.29 600.49 L468.10 601.75 L468.90 603.03 L469.69 604.31 L470.46 605.61 L471.22 606.91 L471.97 608.22 L472.70 609.54 L473.42 610.87 L474.13 612.21 L474.82 613.55 L475.50 614.90 L476.17 616.26 L476.83 617.62 L477.47 619.00 L478.10 620.37 L478.71 621.76 L479.32 623.15 L479.91 624.54 L480.49 625.94 L481.05 627.35 L481.61 628.76 L482.15 630.17 L482.68 631.59 L483.20 633.01 L483.70 634.43 L484.20 635.86 L484.68 637.29 L485.15 638.73 L485.61 640.17 L486.06 641.61 L486.50 643.05 L486.93 644.50 L487.35 645.95 L487.76 647.40 L488.16 648.86 L488.55 650.31 L488.93 651.77 L489.31 653.24 L489.67 654.70 L490.03 656.17 L490.38 657.64 L490.72 659.11 L491.06 660.58 L491.39 662.06 L491.71 663.53 L492.03 665.01 L492.34 666.49 L492.64 667.98 L492.94 669.46 L493.24 670.95 L493.53 672.43 L493.81 673.92 L494.09 675.41 L494.37 676.90 L494.64 678.39 L494.91 679.88 L495.17 681.38 L495.44 682.87 L495.70 684.37 L495.96 685.86 L496.21 687.36 L496.47 688.85 L496.72 690.35 L496.97 691.85 L497.22 693.35 L497.47 694.85 L497.72 696.34 L497.97 697.84 L498.21 699.34 L498.46 700.84 L498.71 702.34 L498.96 703.83 L499.22 705.33 L499.47 706.83 L499.73 708.33 L499.98 709.82 L500.24 711.32 L500.50 712.81 L500.77 714.31 L501.04 715.80 L501.31 717.29 L501.57 718.78 L501.84 720.27 L502.11 721.76 L502.37 723.24 L502.64 724.72 L502.89 726.20 L503.14 727.68 L503.39 729.15 L503.62 730.62 L503.85 732.09 L504.07 733.55 L504.28 735.01 L504.48 736.46 L504.67 737.92 L504.86 739.38 L505.03 740.84 L505.20 742.31 L505.35 743.79 L505.51 745.29 L505.65 746.80 L505.79 748.32 L505.93 749.87 L506.06 751.44 L506.19 753.03 L506.32 754.65 L506.45 756.28 L506.61 757.90 L506.80 759.48 L507.04 761.00 L507.36 762.42 L507.75 763.74 L508.19 764.66" fill="none" stroke="#ff0000" stroke-width="4.4" stroke-linejoin="round" stroke-dasharray="14.6 14" stroke-dashoffset="13.17"/>
<path d="M508.19 764.66 L508.58 764.68 L508.92 763.89 L509.20 762.48 L509.43 760.64 L509.63 758.54 L509.80 756.37 L509.93 754.30 L510.05 752.44 L510.15 750.74 L510.27 749.12 L510.39 747.53 L510.53 745.96 L510.69 744.41 L510.85 742.87 L511.03 741.35 L511.21 739.84 L511.40 738.34 L511.59 736.86 L511.79 735.37 L511.99 733.90 L512.19 732.42 L512.40 730.94 L512.60 729.47 L512.80 727.99 L513.00 726.51 L513.19 725.02 L513.39 723.53 L513.58 722.04 L513.77 720.55 L513.96 719.06 L514.15 717.56 L514.34 716.06 L514.53 714.56 L514.71 713.06 L514.90 711.56 L515.08 710.06 L515.27 708.55 L515.45 707.05 L515.64 705.54 L515.82 704.03 L516.00 702.53 L516.18 701.02 L516.37 699.51 L516.55 698.00 L516.73 696.49 L516.91 694.99 L517.10 693.48 L517.28 691.97 L517.47 690.47 L517.65 688.96 L517.84 687.46 L518.02 685.96 L518.21 684.45 L518.40 682.95 L518.59 681.45 L518.77 679.95 L518.96 678.45 L519.15 676.95 L519.34 675.45 L519.54 673.95 L519.73 672.45 L519.92 670.95 L520.11 669.46 L520.31 667.96 L520.50 666.46 L520.70 664.96 L520.89 663.47 L521.09 661.97 L521.28 660.47 L521.48 658.98 L521.67 657.48 L521.87 655.98 L522.07 654.49 L522.27 652.99 L522.46 651.49 L522.66 649.99 L522.86 648.50 L523.06 647.00 L523.26 645.50 L523.46 644.00 L523.66 642.50 L523.87 641.00 L524.07 639.50 L524.27 638.01 L524.48 636.51 L524.69 635.01 L524.90 633.51 L525.11 632.01 L525.32 630.51 L525.54 629.01 L525.76 627.52 L525.98 626.02 L526.20 624.52 L526.42 623.02 L526.65 621.53 L526.88 620.03 L527.11 618.54 L527.35 617.04 L527.59 615.55 L527.83 614.05 L528.08 612.56 L528.33 611.07 L528.58 609.57 L528.84 608.08 L529.10 606.59 L529.37 605.10 L529.64 603.61 L529.91 602.13 L530.19 600.64 L530.47 599.15 L530.76 597.67 L531.06 596.19 L531.36 594.70 L531.66 593.22 L531.97 591.74 L532.28 590.26 L532.60 588.79 L532.93 587.31 L533.26 585.83 L533.60 584.36 L533.94 582.89 L534.29 581.42 L534.65 579.95 L535.01 578.48 L535.38 577.02 L535.76 575.55 L536.14 574.09 L536.53 572.63 L536.93 571.17 L537.34 569.71 L537.76 568.26 L538.21 566.82 L538.67 565.39 L539.17 563.97 L539.70 562.56 L540.27 561.18 L540.89 559.80 L541.55 558.45 L542.27 557.13 L543.04 555.83 L543.87 554.55 L544.77 553.31 L545.74 552.10 L546.78 550.93 L547.87 549.82 L549.02 548.79 L550.23 547.83 L551.48 546.96 L552.77 546.20 L554.11 545.56 L555.48 545.04 L556.88 544.67 L558.30 544.44 L559.75 544.38 L561.21 544.50 L562.68 544.78 L564.13 545.23 L565.54 545.82 L566.89 546.56 L568.16 547.42 L569.33 548.39 L570.37 549.47 L571.30 550.64 L572.11 551.88 L572.83 553.20 L573.47 554.56 L574.04 555.96 L574.58 557.40 L575.08 558.84 L575.56 560.29 L576.03 561.75 L576.48 563.21 L576.92 564.67 L577.34 566.13 L577.75 567.60 L578.14 569.07 L578.52 570.54 L578.88 572.01 L579.24 573.49 L579.57 574.96 L579.90 576.44 L580.22 577.91 L580.52 579.39 L580.81 580.86 L581.09 582.34 L581.36 583.82 L581.62 585.29 L581.88 586.77 L582.12 588.25 L582.36 589.73 L582.59 591.22 L582.81 592.70 L583.03 594.19 L583.24 595.67 L583.44 597.17 L583.64 598.66 L583.84 600.15 L584.03 601.65 L584.22 603.15 L584.41 604.66 L584.59 606.17 L584.78 607.68 L584.96 609.20 L585.14 610.72 L585.32 612.24 L585.51 613.77 L585.69 615.31 L585.87 616.85 L586.06 618.39 L586.25 619.94 L586.44 621.48 L586.64 623.01 L586.84 624.52 L587.04 625.98 L587.25 627.41 L587.46 628.78 L587.68 630.09 L587.90 631.38 L588.11 632.70 L588.30 634.09 L588.49 635.60 L588.65 637.25 L588.79 639.08 L588.93 641.01 L589.09 642.95 L589.28 644.83 L589.53 646.56 L589.85 648.06 L590.27 649.25 L590.78 650.08 L591.36 650.59 L591.98 650.80 L592.61 650.74" fill="none" stroke="#ff0000" stroke-width="4.4" stroke-linejoin="round" stroke-dasharray="14.6 14" stroke-dashoffset="6.97"/>
<path d="M592.61 650.74 L593.22 650.45 L593.79 649.94 L594.32 649.25 L594.80 648.39 L595.24 647.36 L595.64 646.20 L596.00 644.91 L596.33 643.51 L596.64 642.02 L596.91 640.45 L597.16 638.82 L597.38 637.14 L597.59 635.44 L597.77 633.72 L597.94 632.00 L598.10 630.31 L598.25 628.65 L598.39 627.03 L598.53 625.44 L598.67 623.89 L598.81 622.37 L598.95 620.88 L599.10 619.41 L599.27 617.96 L599.44 616.53 L599.64 615.12 L599.85 613.71 L600.09 612.31 L600.35 610.92 L600.64 609.53 L600.96 608.14 L601.30 606.74 L601.67 605.34 L602.05 603.94 L602.44 602.53 L602.85 601.11 L603.26 599.69 L603.68 598.25 L604.10 596.80 L604.52 595.34 L604.94 593.86 L605.35 592.37 L605.75 590.86 L606.14 589.33 L606.52 587.78 L606.90 586.23 L607.27 584.67 L607.66 583.10 L608.05 581.54 L608.45 579.99 L608.88 578.45 L609.32 576.92 L609.79 575.40 L610.29 573.92 L610.82 572.45 L611.39 571.02 L612.00 569.62 L612.64 568.26 L613.33 566.92 L614.05 565.61 L614.81 564.34 L615.60 563.10 L616.43 561.88 L617.29 560.70 L618.18 559.54 L619.10 558.41 L620.05 557.31 L621.04 556.24 L622.05 555.19 L623.09 554.17 L624.15 553.18 L625.25 552.21 L626.37 551.27 L627.51 550.35 L628.67 549.46 L629.86 548.59 L631.07 547.74 L632.30 546.92 L633.55 546.12 L634.82 545.34 L636.11 544.58 L637.41 543.84 L638.73 543.13 L640.07 542.43 L641.42 541.75 L642.78 541.10 L644.16 540.46 L645.55 539.84 L646.95 539.23 L648.36 538.65 L649.78 538.08 L651.20 537.53 L652.64 536.99 L654.08 536.47 L655.53 535.97 L656.98 535.48 L658.43 535.00 L659.89 534.54 L661.35 534.09 L662.81 533.65 L664.28 533.23 L665.74 532.81 L667.20 532.41 L668.65 532.02 L670.11 531.64 L671.56 531.27 L673.00 530.91" fill="none" stroke="#ff0000" stroke-width="4.4" stroke-linejoin="round" stroke-dasharray="14.6 14" stroke-dashoffset="12.86"/>
<path d="M85.30 514.50 L86.78 514.76 L88.25 515.02 L89.72 515.28 L91.20 515.55 L92.67 515.81 L94.14 516.08 L95.61 516.35 L97.08 516.61 L98.56 516.88 L100.03 517.15 L101.50 517.43 L102.97 517.70 L104.44 517.97 L105.91 518.25 L107.38 518.52 L108.85 518.80 L110.32 519.08 L111.79 519.35 L113.26 519.63 L114.73 519.91 L116.19 520.20 L117.66 520.48 L119.13 520.76 L120.60 521.05 L122.07 521.33 L123.53 521.62 L125.00 521.90 L126.47 522.19 L127.94 522.48 L129.40 522.77 L130.87 523.06 L132.33 523.35 L133.80 523.65 L135.27 523.94 L136.73 524.23 L138.20 524.53 L139.66 524.83 L141.13 525.12 L142.59 525.42 L144.06 525.72 L145.52 526.02 L146.99 526.32 L148.45 526.62 L149.92 526.92 L151.38 527.23 L152.85 527.53 L154.31 527.84 L155.77 528.14 L157.24 528.45 L158.70 528.75 L160.16 529.06 L161.63 529.37 L163.09 529.68 L164.55 529.99 L166.02 530.30 L167.48 530.62 L168.94 530.93 L170.41 531.24 L171.87 531.56 L173.33 531.87 L174.79 532.19 L176.26 532.50 L177.72 532.82 L179.18 533.14 L180.64 533.46 L182.11 533.78 L183.57 534.10 L185.03 534.42 L186.49 534.74 L187.95 535.06 L189.42 535.39 L190.88 535.71 L192.34 536.04 L193.80 536.36 L195.26 536.69 L196.72 537.01 L198.19 537.34 L199.65 537.67 L201.11 538.00 L202.57 538.33 L204.03 538.66 L205.50 538.99 L206.96 539.32 L208.42 539.65 L209.88 539.99 L211.34 540.32 L212.80 540.65 L214.27 540.99 L215.73 541.32 L217.19 541.66 L218.65 541.99 L220.11 542.33 L221.57 542.67 L223.04 543.01 L224.50 543.35 L225.96 543.69 L227.42 544.03 L228.88 544.37 L230.34 544.72 L231.80 545.06 L233.26 545.41 L234.72 545.76 L236.18 546.11 L237.64 546.46 L239.10 546.82 L240.55 547.17 L242.01 547.53 L243.47 547.89 L244.92 548.25 L246.37 548.62 L247.83 548.99 L249.28 549.36 L250.73 549.73 L252.18 550.10 L253.63 550.48 L255.08 550.86 L256.53 551.25 L257.98 551.63 L259.42 552.02 L260.87 552.41 L262.31 552.81 L263.75 553.21 L265.20 553.61 L266.63 554.02 L268.07 554.43 L269.51 554.85 L270.94 555.26 L272.38 555.69 L273.81 556.11 L275.24 556.54 L276.67 556.98 L278.10 557.41 L279.52 557.86 L280.95 558.31 L282.37 558.76 L283.79 559.21 L285.21 559.68 L286.62 560.14 L288.04 560.61 L289.45 561.09 L290.86 561.57 L292.27 562.06 L293.67 562.55 L295.08 563.05 L296.48 563.55 L297.88 564.06 L299.28 564.57 L300.67 565.09 L302.06 565.62 L303.45 566.15 L304.84 566.69 L306.23 567.23 L307.61 567.78 L308.99 568.34 L310.37 568.90 L311.74 569.47 L313.11 570.05 L314.48 570.63 L315.85 571.22 L317.21 571.82 L318.57 572.42 L319.93 573.03 L321.28 573.65 L322.63 574.27 L323.98 574.90 L325.33 575.54 L326.67 576.19 L328.01 576.84 L329.34 577.51 L330.68 578.18 L332.01 578.85 L333.33 579.54 L334.65 580.23 L335.97 580.93 L337.29 581.64 L338.60 582.36 L339.91 583.09 L341.21 583.82 L342.52 584.57" fill="none" stroke="#000000" stroke-width="4.4" stroke-linejoin="round" stroke-dasharray="4.1 3.05" stroke-dashoffset="0"/>
<path d="M345.80 581.59 L347.24 582.12 L348.67 582.67 L350.08 583.24 L351.49 583.83 L352.88 584.44 L354.25 585.08 L355.62 585.73 L356.97 586.41 L358.30 587.11 L359.63 587.82 L360.94 588.56 L362.24 589.31 L363.52 590.09 L364.80 590.88 L366.06 591.69 L367.30 592.52 L368.54 593.37 L369.76 594.23 L370.96 595.11 L372.16 596.01 L373.34 596.93 L374.51 597.86 L375.67 598.81 L376.81 599.77 L377.94 600.75 L379.06 601.75 L380.16 602.76 L381.25 603.79 L382.33 604.83 L383.40 605.88 L384.45 606.95 L385.49 608.03 L386.52 609.13 L387.54 610.24 L388.54 611.36 L389.53 612.49 L390.50 613.64 L391.47 614.80 L392.42 615.97 L393.35 617.15 L394.28 618.34 L395.19 619.55 L396.09 620.76 L396.98 621.99 L397.85 623.22 L398.71 624.47 L399.56 625.73 L400.40 626.99 L401.22 628.26 L402.03 629.55 L402.83 630.84 L403.61 632.14 L404.38 633.44 L405.14 634.76 L405.89 636.08 L406.62 637.41 L407.34 638.74 L408.05 640.09 L408.75 641.44 L409.43 642.79 L410.10 644.15 L410.76 645.52 L411.40 646.89 L412.03 648.26 L412.65 649.64 L413.26 651.03 L413.85 652.42 L414.43 653.81 L415.00 655.21 L415.56 656.61 L416.11 658.02 L416.64 659.43 L417.17 660.84 L417.68 662.26 L418.18 663.68 L418.67 665.10 L419.15 666.53 L419.63 667.96 L420.09 669.39 L420.54 670.83 L420.98 672.27 L421.41 673.71 L421.84 675.16 L422.25 676.61 L422.66 678.06 L423.05 679.51 L423.44 680.97 L423.82 682.43 L424.20 683.89 L424.56 685.35 L424.92 686.82 L425.27 688.29 L425.61 689.76 L425.95 691.23 L426.28 692.70 L426.61 694.18 L426.92 695.66 L427.24 697.14 L427.54 698.62 L427.84 700.10 L428.14 701.59 L428.43 703.07 L428.71 704.56 L428.99 706.05 L429.27 707.53 L429.54 709.02 L429.81 710.52 L430.07 712.01 L430.33 713.50 L430.59 714.99 L430.84 716.49 L431.09 717.98 L431.34 719.47 L431.59 720.97 L431.83 722.46 L432.07 723.96 L432.31 725.45 L432.55 726.95 L432.78 728.45 L433.02 729.94 L433.25 731.43 L433.48 732.93 L433.71 734.42 L433.94 735.92 L434.17 737.41 L434.40 738.90 L434.63 740.39 L434.86 741.88 L435.09 743.37 L435.33 744.86 L435.56 746.35 L435.79 747.84 L436.03 749.32 L436.26 750.81 L436.50 752.29 L436.73 753.77 L436.96 755.26 L437.20 756.74 L437.43 758.23 L437.66 759.71 L437.89 761.20 L438.11 762.68 L438.34 764.17 L438.56 765.65 L438.78 767.14 L439.00 768.63 L439.21 770.12 L439.42 771.62 L439.63 773.11 L439.84 774.60 L440.03 776.10 L440.23 777.60 L440.42 779.10 L440.61 780.61 L440.79 782.12 L440.96 783.63 L441.13 785.14 L441.30 786.65 L441.45 788.17 L441.61 789.69 L441.75 791.22 L441.89 792.75 L442.02 794.28 L442.14 795.82 L442.26 797.36 L442.37 798.90 L442.48 800.43 L442.59 801.96 L442.70 803.48 L442.81 804.99 L442.92 806.48 L443.03 807.96 L443.15 809.42 L443.28 810.86 L443.41 812.28 L443.56 813.67 L443.71 815.03 L443.88 816.36 L444.05 817.65 L444.25 818.94 L444.45 820.30 L444.66 821.82 L444.88 823.60 L445.09 825.59 L445.31 827.49 L445.53 828.98 L445.76 829.73 L445.99 829.65 L446.22 828.88 L446.45 827.54 L446.67 825.79 L446.89 823.75 L447.10 821.56 L447.30 819.36 L447.49 817.29 L447.66 815.44 L447.81 813.79 L447.96 812.27 L448.11 810.82 L448.26 809.36 L448.41 807.89 L448.56 806.42 L448.71 804.94 L448.87 803.46 L449.02 801.97 L449.18 800.48 L449.34 798.98 L449.50 797.48 L449.66 795.97 L449.82 794.47 L449.98 792.96 L450.14 791.45 L450.30 789.94 L450.47 788.43 L450.63 786.93 L450.80 785.42 L450.96 783.92 L451.13 782.42 L451.29 780.92 L451.46 779.42 L451.62 777.92 L451.79 776.42 L451.95 774.92 L452.11 773.43 L452.28 771.93 L452.43 770.43 L452.59 768.93 L452.75 767.44 L452.90 765.94 L453.06 764.44 L453.21 762.94 L453.35 761.44 L453.50 759.94 L453.64 758.44 L453.79 756.93 L453.92 755.43 L454.06 753.93 L454.20 752.42 L454.33 750.91 L454.47 749.41 L454.60 747.90 L454.73 746.39 L454.86 744.89 L455.00 743.38 L455.13 741.87 L455.26 740.36 L455.39 738.85 L455.52 737.34 L455.65 735.83 L455.78 734.32 L455.91 732.81 L456.04 731.31 L456.18 729.80 L456.31 728.29 L456.45 726.78 L456.58 725.27 L456.72 723.76 L456.86 722.25 L457.00 720.75 L457.15 719.24 L457.29 717.73 L457.44 716.23 L457.59 714.72 L457.74 713.22 L457.90 711.71 L458.06 710.21 L458.22 708.71 L458.38 707.21 L458.55 705.70 L458.72 704.20 L458.89 702.70 L459.07 701.20 L459.24 699.70 L459.42 698.21 L459.61 696.71 L459.80 695.21 L459.99 693.72 L460.18 692.22 L460.38 690.72 L460.58 689.23 L460.78 687.74 L460.98 686.24 L461.19 684.75 L461.41 683.26 L461.62 681.77 L461.84 680.28 L462.07 678.79 L462.29 677.30 L462.52 675.81 L462.76 674.32 L463.00 672.84 L463.24 671.35 L463.48 669.86 L463.73 668.38 L463.99 666.89 L464.24 665.41 L464.51 663.93 L464.77 662.44 L465.04 660.96 L465.31 659.48 L465.59 658.00 L465.87 656.52 L466.16 655.04 L466.45 653.56 L466.74 652.08 L467.04 650.61 L467.34 649.13 L467.65 647.65 L467.96 646.18 L468.28 644.70 L468.60 643.23 L468.92 641.76 L469.25 640.28 L469.59 638.81 L469.93 637.34 L470.27 635.87 L470.62 634.40 L470.97 632.93 L471.33 631.46 L471.70 629.99 L472.07 628.53 L472.44 627.06 L472.82 625.59 L473.20 624.13 L473.59 622.66 L473.98 621.20 L474.38 619.74 L474.79 618.27 L475.20 616.81 L475.61 615.35 L476.03 613.89 L476.46 612.43 L476.89 610.98 L477.33 609.52 L477.78 608.07 L478.23 606.62 L478.69 605.17 L479.16 603.72 L479.63 602.28 L480.11 600.84 L480.60 599.40 L481.10 597.96 L481.60 596.53 L482.11 595.10 L482.63 593.67 L483.16 592.25 L483.70 590.83 L484.24 589.42 L484.80 588.01 L485.36 586.60 L485.93 585.20 L486.51 583.80 L487.10 582.40 L487.70 581.01 L488.31 579.63 L488.93 578.25 L489.56 576.88 L490.20 575.51 L490.85 574.15 L491.51 572.79 L492.18 571.44 L492.87 570.09 L493.57 568.76 L494.28 567.43 L495.00 566.12 L495.74 564.82 L496.49 563.52 L497.27 562.25 L498.05 560.98 L498.86 559.73 L499.69 558.50 L500.53 557.29 L501.40 556.09 L502.28 554.91 L503.19 553.76 L504.12 552.62 L505.07 551.51 L506.05 550.42 L507.05 549.35 L508.07 548.31 L509.13 547.30 L510.21 546.31 L511.31 545.35 L512.45 544.42 L513.61 543.52 L514.81 542.65 L516.03 541.81 L517.29 541.00 L518.58 540.23 L519.90 539.49 L521.25 538.79 L522.64 538.13 L524.06 537.50 L525.50 536.91 L526.97 536.36 L528.46 535.85 L529.97 535.38 L531.50 534.95 L533.04 534.57 L534.60 534.22 L536.16 533.92 L537.73 533.66 L539.31 533.45 L540.89 533.29 L542.46 533.16 L544.03 533.09 L545.60 533.07 L547.15 533.09 L548.70 533.16 L550.23 533.28 L551.74 533.45 L553.24 533.68 L554.71 533.95 L556.16 534.28 L557.58 534.66 L558.97 535.10 L560.33 535.59 L561.66 536.13 L562.95 536.74 L564.19 537.40 L565.40 538.12 L566.56 538.89 L567.67 539.73 L568.73 540.63 L569.74 541.58 L570.70 542.59 L571.60 543.67 L572.44 544.79 L573.23 545.97 L573.96 547.20 L574.62 548.48 L575.23 549.81 L575.78 551.19 L576.27 552.62 L576.72 554.09 L577.13 555.61 L577.51 557.18 L577.87 558.79 L578.21 560.46 L578.54 562.16 L578.89 563.88 L579.34 565.48 L579.98 566.85 L580.86 567.87 L582.02 568.35 L583.36 568.15 L584.65 567.47 L585.71 566.51 L586.54 565.35 L587.18 564.01 L587.67 562.54 L588.05 560.97 L588.37 559.33 L588.67 557.67 L588.99 556.02 L589.37 554.41 L589.83 552.85 L590.37 551.36 L590.97 549.92 L591.64 548.55 L592.38 547.23 L593.19 545.97 L594.06 544.77 L594.98 543.63 L595.96 542.55 L597.00 541.52 L598.08 540.56 L599.22 539.66 L600.40 538.82 L601.62 538.04 L602.88 537.32 L604.18 536.65 L605.52 536.05 L606.89 535.50 L608.28 534.99 L609.71 534.54 L611.16 534.12 L612.63 533.75 L614.11 533.41 L615.62 533.11 L617.13 532.84 L618.66 532.59 L620.19 532.37 L621.73 532.16 L623.27 531.98 L624.80 531.81 L626.34 531.64 L627.86 531.49 L629.39 531.34 L630.91 531.21 L632.42 531.08 L633.93 530.95 L635.43 530.83 L636.94 530.72 L638.44 530.61 L639.94 530.51 L641.43 530.41 L642.92 530.32 L644.42 530.22 L645.91 530.13 L647.40 530.05 L648.89 529.96 L650.38 529.88 L651.87 529.80 L653.36 529.72 L654.86 529.64 L656.35 529.55 L657.85 529.47 L659.35 529.39 L660.85 529.30 L662.35 529.21 L663.86 529.12 L665.37 529.03 L666.89 528.93 L668.41 528.83 L669.93 528.73 L671.46 528.62 L673.00 528.50" fill="none" stroke="#000000" stroke-width="4.4" stroke-linejoin="round" stroke-dasharray="4.1 3.05" stroke-dashoffset="0"/>
</g>
<g class="tk">
<text x="84.4" y="910.5" text-anchor="middle">4</text>
<text x="157.9" y="910.5" text-anchor="middle">6</text>
<text x="231.4" y="910.5" text-anchor="middle">8</text>
<text x="304.9" y="910.5" text-anchor="middle">10</text>
<text x="378.4" y="910.5" text-anchor="middle">12</text>
<text x="451.9" y="910.5" text-anchor="middle">14</text>
<text x="525.3" y="910.5" text-anchor="middle">16</text>
<text x="598.8" y="910.5" text-anchor="middle">18</text>
<text x="672.3" y="910.5" text-anchor="middle">20</text>
<text x="74.8" y="505.4" text-anchor="end">0</text>
<text x="74.8" y="569.2" text-anchor="end">-5</text>
<text x="74.8" y="633.0" text-anchor="end">-10</text>
<text x="74.8" y="696.8" text-anchor="end">-15</text>
<text x="74.8" y="760.6" text-anchor="end">-20</text>
<text x="74.8" y="824.3" text-anchor="end">-25</text>
<text x="74.8" y="888.1" text-anchor="end">-30</text>
</g>
<rect x="100.8" y="773.5" width="185.7" height="90.70000000000005" fill="#fff" stroke="#262626" stroke-width="1"/>
<path d="M107.2 790.0 H167.3" stroke="#0000ff" stroke-width="4.4"/>
<path d="M107.2 818.2 H167.3" stroke="#ff0000" stroke-width="4.4" stroke-dasharray="14.6 14"/>
<path d="M107.2 847.2 H167.3" stroke="#000000" stroke-width="4.4" stroke-dasharray="4.1 3.05"/>
<g class="lg">
<text x="171.3" y="798.7">r =2 mm</text>
<text x="171.3" y="826.9">r =2.5 mm</text>
<text x="171.3" y="855.9">r =3 mm</text>
</g>
<text class="lab" x="379.3" y="943.1" text-anchor="middle">Frequency (dB)</text>
<text class="ylab" transform="translate(19.5 747.2) rotate(-90)">|S<tspan class="sub" dy="11.8" dx="3.1">21</tspan><tspan dy="-11.8" dx="0.1">| (dB)</tspan></text>
<text class="cap" x="340.2" y="965.8" text-anchor="middle">(b)</text>
</g>
</svg>
</body>
</html>
